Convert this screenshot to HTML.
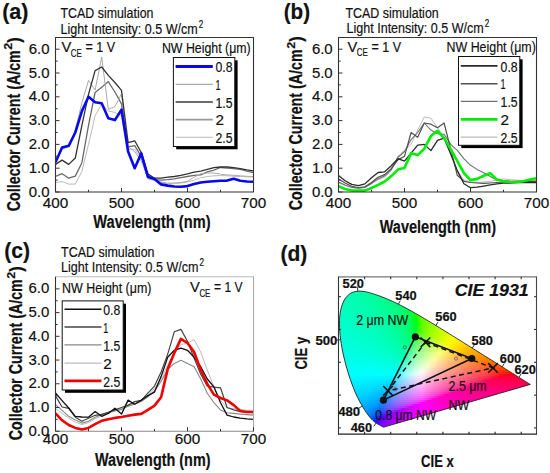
<!DOCTYPE html>
<html><head><meta charset="utf-8"><style>
html,body{margin:0;padding:0;background:#fff;width:550px;height:473px;overflow:hidden}
svg{display:block;font-family:"Liberation Sans",sans-serif}
text{stroke:#111;stroke-width:0.2px}
</style></head><body>
<svg width="550" height="473" viewBox="0 0 550 473" fill="#111">
<rect width="550" height="473" fill="#fff"/>
<clipPath id="clipa"><rect x="55.5" y="37.5" width="198.0" height="154.5"/></clipPath>
<g clip-path="url(#clipa)" fill="none" stroke-linejoin="round">
<polyline points="55.5,182.7 62.1,181.5 68.7,184.1 75.3,184.1 81.9,171.3 88.5,144.4 95.1,115.8 101.7,103.9 108.3,111.1 114.9,112.3 121.5,115.8 128.1,149.2 134.7,149.2 141.3,158.7 147.9,178.9 154.5,180.6 161.1,182.5 167.7,183.7 174.3,183.7 180.9,183.0 187.5,182.0 194.1,180.1 200.7,177.7 207.3,176.5 213.9,175.8 220.5,175.6 227.1,175.8 233.7,176.3 240.3,176.5 246.9,176.8 253.5,177.0" stroke="#bbbbbb" stroke-width="1"/>
<polyline points="55.5,176.3 62.1,173.7 68.7,178.2 75.3,176.1 81.9,162.7 88.5,125.4 95.1,92.5 101.7,87.3 108.3,81.6 114.9,92.0 121.5,103.9 128.1,146.8 134.7,145.6 141.3,156.3 147.9,177.7 154.5,179.6 161.1,180.1 167.7,179.6 174.3,178.9 180.9,177.7 187.5,176.5 194.1,175.3 200.7,174.9 207.3,171.8 213.9,170.1 220.5,167.5 227.1,168.2 233.7,168.7 240.3,169.4 246.9,171.1 253.5,172.7" stroke="#6a6a6a" stroke-width="1.3"/>
<polyline points="55.5,161.1 62.1,149.2 68.7,146.8 75.3,130.1 81.9,102.8 88.5,80.4 95.1,90.1 101.7,57.1 108.3,109.4 114.9,106.6 121.5,93.9 128.1,146.8 134.7,151.5 141.3,161.1 147.9,177.7 154.5,180.1 161.1,182.0 167.7,183.2 174.3,183.0 180.9,182.5 187.5,181.3 194.1,177.2 200.7,173.7 207.3,173.0 213.9,173.0 220.5,174.2 227.1,174.9 233.7,175.3 240.3,175.8 246.9,176.3 253.5,176.5" stroke="#aaaaaa" stroke-width="1"/>
<polyline points="55.5,164.4 62.1,160.1 68.7,164.4 75.3,158.0 81.9,125.4 88.5,94.4 95.1,70.6 101.7,67.0 108.3,75.4 114.9,82.5 121.5,90.4 128.1,142.7 134.7,140.8 141.3,152.5 147.9,173.9 154.5,178.2 161.1,178.2 167.7,177.2 174.3,176.5 180.9,175.3 187.5,173.9 194.1,172.2 200.7,171.1 207.3,169.4 213.9,167.7 220.5,167.0 227.1,167.0 233.7,167.7 240.3,168.7 246.9,169.9 253.5,170.8" stroke="#333333" stroke-width="1.3"/>
<polyline points="55.5,162.2 62.1,147.5 68.7,145.8 75.3,132.5 81.9,111.1 88.5,96.8 95.1,102.3 101.7,103.2 108.3,118.2 114.9,120.1 121.5,109.7 128.1,151.5 134.7,168.2 141.3,153.4 147.9,176.8 154.5,178.9 161.1,184.4 167.7,185.6 174.3,186.5 180.9,186.8 187.5,186.1 194.1,184.1 200.7,182.5 207.3,181.8 213.9,181.3 220.5,180.8 227.1,180.6 233.7,178.7 240.3,180.8 246.9,181.5 253.5,181.8" stroke="#0808ee" stroke-width="2.6"/>
</g>
<line x1="55.00" y1="37.50" x2="254.00" y2="37.50" stroke="#333" stroke-width="1.1" />
<line x1="253.50" y1="37.50" x2="253.50" y2="192.00" stroke="#333" stroke-width="1.1" />
<line x1="55.00" y1="192.00" x2="254.00" y2="192.00" stroke="#333" stroke-width="1.1" />
<line x1="55.50" y1="37.50" x2="55.50" y2="192.00" stroke="#333" stroke-width="1.1" />
<line x1="55.50" y1="192.00" x2="59.50" y2="192.00" stroke="#333" stroke-width="1" />
<line x1="55.50" y1="180.10" x2="57.70" y2="180.10" stroke="#333" stroke-width="1" />
<line x1="55.50" y1="168.20" x2="59.50" y2="168.20" stroke="#333" stroke-width="1" />
<line x1="55.50" y1="156.30" x2="57.70" y2="156.30" stroke="#333" stroke-width="1" />
<line x1="55.50" y1="144.40" x2="59.50" y2="144.40" stroke="#333" stroke-width="1" />
<line x1="55.50" y1="132.50" x2="57.70" y2="132.50" stroke="#333" stroke-width="1" />
<line x1="55.50" y1="120.60" x2="59.50" y2="120.60" stroke="#333" stroke-width="1" />
<line x1="55.50" y1="108.70" x2="57.70" y2="108.70" stroke="#333" stroke-width="1" />
<line x1="55.50" y1="96.80" x2="59.50" y2="96.80" stroke="#333" stroke-width="1" />
<line x1="55.50" y1="84.90" x2="57.70" y2="84.90" stroke="#333" stroke-width="1" />
<line x1="55.50" y1="73.00" x2="59.50" y2="73.00" stroke="#333" stroke-width="1" />
<line x1="55.50" y1="61.10" x2="57.70" y2="61.10" stroke="#333" stroke-width="1" />
<line x1="55.50" y1="49.20" x2="59.50" y2="49.20" stroke="#333" stroke-width="1" />
<line x1="55.50" y1="192.00" x2="55.50" y2="188.00" stroke="#333" stroke-width="1" />
<line x1="88.50" y1="192.00" x2="88.50" y2="189.80" stroke="#333" stroke-width="1" />
<line x1="121.50" y1="192.00" x2="121.50" y2="188.00" stroke="#333" stroke-width="1" />
<line x1="154.50" y1="192.00" x2="154.50" y2="189.80" stroke="#333" stroke-width="1" />
<line x1="187.50" y1="192.00" x2="187.50" y2="188.00" stroke="#333" stroke-width="1" />
<line x1="220.50" y1="192.00" x2="220.50" y2="189.80" stroke="#333" stroke-width="1" />
<line x1="253.50" y1="192.00" x2="253.50" y2="188.00" stroke="#333" stroke-width="1" />
<text x="49.50" y="196.60" font-size="15.5" textLength="20.8" lengthAdjust="spacingAndGlyphs" text-anchor="end">0.0</text>
<text x="49.50" y="172.80" font-size="15.5" textLength="20.8" lengthAdjust="spacingAndGlyphs" text-anchor="end">1.0</text>
<text x="49.50" y="149.00" font-size="15.5" textLength="20.8" lengthAdjust="spacingAndGlyphs" text-anchor="end">2.0</text>
<text x="49.50" y="125.20" font-size="15.5" textLength="20.8" lengthAdjust="spacingAndGlyphs" text-anchor="end">3.0</text>
<text x="49.50" y="101.40" font-size="15.5" textLength="20.8" lengthAdjust="spacingAndGlyphs" text-anchor="end">4.0</text>
<text x="49.50" y="77.60" font-size="15.5" textLength="20.8" lengthAdjust="spacingAndGlyphs" text-anchor="end">5.0</text>
<text x="49.50" y="53.80" font-size="15.5" textLength="20.8" lengthAdjust="spacingAndGlyphs" text-anchor="end">6.0</text>
<text x="55.50" y="207.70" font-size="15.5" textLength="25.5" lengthAdjust="spacingAndGlyphs" text-anchor="middle">400</text>
<text x="121.50" y="207.70" font-size="15.5" textLength="25.5" lengthAdjust="spacingAndGlyphs" text-anchor="middle">500</text>
<text x="187.50" y="207.70" font-size="15.5" textLength="25.5" lengthAdjust="spacingAndGlyphs" text-anchor="middle">600</text>
<text x="253.50" y="207.70" font-size="15.5" textLength="25.5" lengthAdjust="spacingAndGlyphs" text-anchor="middle">700</text>
<text x="93.30" y="228.20" font-size="17.5" font-weight="bold" textLength="117.2" lengthAdjust="spacingAndGlyphs">Wavelength (nm)</text>
<text transform="translate(19.80,211.20) rotate(-90)" font-size="18.5" font-weight="bold" textLength="161" lengthAdjust="spacingAndGlyphs">Collector Current (A/cm</text>
<text transform="translate(12.30,49.70) rotate(-90)" font-size="11.5" font-weight="bold" textLength="7" lengthAdjust="spacingAndGlyphs">2</text>
<text transform="translate(19.80,42.70) rotate(-90)" font-size="18.5" font-weight="bold" textLength="5.5" lengthAdjust="spacingAndGlyphs">)</text>
<text x="2.20" y="18.90" font-size="22.5" font-weight="bold" textLength="26.3" lengthAdjust="spacingAndGlyphs">(a)</text>
<text x="60.50" y="17.60" font-size="15.3" textLength="93.0" lengthAdjust="spacingAndGlyphs">TCAD simulation</text>
<text x="60.50" y="33.60" font-size="15.5" textLength="137.3" lengthAdjust="spacingAndGlyphs">Light Intensity: 0.5 W/cm</text>
<text x="198.80" y="27.90" font-size="10" textLength="4.5" lengthAdjust="spacingAndGlyphs">2</text>
<text x="61.40" y="52.10" font-size="15" textLength="9.8" lengthAdjust="spacingAndGlyphs">V</text>
<text x="70.70" y="56.80" font-size="10.5" textLength="11" lengthAdjust="spacingAndGlyphs">CE</text>
<text x="85.40" y="52.10" font-size="15" textLength="29.6" lengthAdjust="spacingAndGlyphs">= 1 V</text>
<text x="161.90" y="52.60" font-size="15.3" textLength="88.8" lengthAdjust="spacingAndGlyphs">NW Height (μm)</text>
<rect x="176.20" y="60.30" width="61.40" height="89.00" fill="#000"/>
<rect x="173.4" y="57.5" width="61.40" height="89.00" fill="#fff" stroke="#111" stroke-width="1"/>
<line x1="175.60" y1="66.50" x2="212.80" y2="66.50" stroke="#0808ee" stroke-width="2.8" />
<text x="215.50" y="72.20" font-size="15.3" textLength="17" lengthAdjust="spacingAndGlyphs">0.8</text>
<line x1="175.60" y1="84.30" x2="212.80" y2="84.30" stroke="#aaaaaa" stroke-width="1.3" />
<text x="215.50" y="90.00" font-size="15.3" textLength="5" lengthAdjust="spacingAndGlyphs">1</text>
<line x1="175.60" y1="102.00" x2="212.80" y2="102.00" stroke="#6a6a6a" stroke-width="2.1" />
<text x="215.50" y="107.70" font-size="15.3" textLength="17" lengthAdjust="spacingAndGlyphs">1.5</text>
<line x1="175.60" y1="119.60" x2="212.80" y2="119.60" stroke="#999999" stroke-width="1.8" />
<text x="215.50" y="125.30" font-size="15.3" textLength="8.5" lengthAdjust="spacingAndGlyphs">2</text>
<line x1="175.60" y1="137.30" x2="212.80" y2="137.30" stroke="#bbbbbb" stroke-width="1.1" />
<text x="215.50" y="143.00" font-size="15.3" textLength="17" lengthAdjust="spacingAndGlyphs">2.5</text>
<clipPath id="clipb"><rect x="338.5" y="37.5" width="198.0" height="154.5"/></clipPath>
<g clip-path="url(#clipb)" fill="none" stroke-linejoin="round">
<polyline points="338.5,183.0 345.1,185.3 351.7,187.7 358.3,188.4 364.9,187.7 371.5,183.9 378.1,179.6 384.7,177.2 391.3,170.6 397.9,156.3 404.5,150.3 411.1,144.4 417.7,130.1 424.3,117.0 430.9,118.2 437.5,127.7 444.1,137.3 450.7,153.9 457.3,170.6 463.9,180.1 470.5,182.0 477.1,182.5 483.7,182.0 490.3,181.3 496.9,180.1 503.5,178.9 510.1,179.6 516.7,180.1 523.3,180.6 529.9,180.8 536.5,181.1" stroke="#bbbbbb" stroke-width="1"/>
<polyline points="338.5,182.0 345.1,184.9 351.7,187.2 358.3,188.2 364.9,187.2 371.5,183.4 378.1,178.9 384.7,175.8 391.3,169.4 397.9,157.5 404.5,151.5 411.1,139.6 417.7,132.5 424.3,123.0 430.9,130.1 437.5,133.7 444.1,134.2 450.7,144.4 457.3,150.3 463.9,158.7 470.5,165.3 477.1,169.4 483.7,172.7 490.3,176.5 496.9,180.1 503.5,180.6 510.1,181.1 516.7,181.3 523.3,181.3 529.9,181.3 536.5,181.3" stroke="#707070" stroke-width="1.1"/>
<polyline points="338.5,179.1 345.1,183.0 351.7,186.3 358.3,187.5 364.9,186.8 371.5,182.5 378.1,177.2 384.7,174.6 391.3,168.7 397.9,159.9 404.5,156.3 411.1,132.5 417.7,137.3 424.3,123.0 430.9,124.2 437.5,127.7 444.1,123.0 450.7,149.2 457.3,175.3 463.9,181.3 470.5,182.5 477.1,183.0 483.7,183.4 490.3,183.0 496.9,182.5 503.5,182.0 510.1,181.5 516.7,181.3 523.3,181.3 529.9,181.3 536.5,181.3" stroke="#505050" stroke-width="1.2"/>
<polyline points="338.5,175.6 345.1,180.8 351.7,184.4 358.3,185.6 364.9,183.9 371.5,177.7 378.1,172.5 384.7,171.8 391.3,165.8 397.9,158.7 404.5,161.1 411.1,153.2 417.7,145.1 424.3,144.4 430.9,150.6 437.5,140.4 444.1,138.2 450.7,153.9 457.3,170.6 463.9,183.7 470.5,187.7 477.1,187.2 483.7,186.1 490.3,184.9 496.9,183.9 503.5,183.2 510.1,183.0 516.7,182.7 523.3,182.5 529.9,182.5 536.5,182.5" stroke="#2a2a2a" stroke-width="1.3"/>
<polyline points="338.5,186.1 345.1,189.1 351.7,190.6 358.3,190.6 364.9,190.6 371.5,188.0 378.1,184.9 384.7,181.5 391.3,176.1 397.9,169.6 404.5,168.0 411.1,153.2 417.7,155.1 424.3,148.7 430.9,136.1 437.5,130.8 444.1,138.2 450.7,149.2 457.3,161.1 463.9,173.0 470.5,180.1 477.1,178.9 483.7,175.8 490.3,173.2 496.9,179.6 503.5,181.3 510.1,182.0 516.7,182.2 523.3,181.3 529.9,179.6 536.5,178.2" stroke="#00ee00" stroke-width="2.6"/>
</g>
<line x1="338.00" y1="37.50" x2="537.00" y2="37.50" stroke="#333" stroke-width="1.1" />
<line x1="536.50" y1="37.50" x2="536.50" y2="192.00" stroke="#333" stroke-width="1.1" />
<line x1="338.00" y1="192.00" x2="537.00" y2="192.00" stroke="#333" stroke-width="1.1" />
<line x1="338.50" y1="37.50" x2="338.50" y2="192.00" stroke="#333" stroke-width="1.1" />
<line x1="338.50" y1="192.00" x2="342.50" y2="192.00" stroke="#333" stroke-width="1" />
<line x1="338.50" y1="180.10" x2="340.70" y2="180.10" stroke="#333" stroke-width="1" />
<line x1="338.50" y1="168.20" x2="342.50" y2="168.20" stroke="#333" stroke-width="1" />
<line x1="338.50" y1="156.30" x2="340.70" y2="156.30" stroke="#333" stroke-width="1" />
<line x1="338.50" y1="144.40" x2="342.50" y2="144.40" stroke="#333" stroke-width="1" />
<line x1="338.50" y1="132.50" x2="340.70" y2="132.50" stroke="#333" stroke-width="1" />
<line x1="338.50" y1="120.60" x2="342.50" y2="120.60" stroke="#333" stroke-width="1" />
<line x1="338.50" y1="108.70" x2="340.70" y2="108.70" stroke="#333" stroke-width="1" />
<line x1="338.50" y1="96.80" x2="342.50" y2="96.80" stroke="#333" stroke-width="1" />
<line x1="338.50" y1="84.90" x2="340.70" y2="84.90" stroke="#333" stroke-width="1" />
<line x1="338.50" y1="73.00" x2="342.50" y2="73.00" stroke="#333" stroke-width="1" />
<line x1="338.50" y1="61.10" x2="340.70" y2="61.10" stroke="#333" stroke-width="1" />
<line x1="338.50" y1="49.20" x2="342.50" y2="49.20" stroke="#333" stroke-width="1" />
<line x1="338.50" y1="192.00" x2="338.50" y2="188.00" stroke="#333" stroke-width="1" />
<line x1="371.50" y1="192.00" x2="371.50" y2="189.80" stroke="#333" stroke-width="1" />
<line x1="404.50" y1="192.00" x2="404.50" y2="188.00" stroke="#333" stroke-width="1" />
<line x1="437.50" y1="192.00" x2="437.50" y2="189.80" stroke="#333" stroke-width="1" />
<line x1="470.50" y1="192.00" x2="470.50" y2="188.00" stroke="#333" stroke-width="1" />
<line x1="503.50" y1="192.00" x2="503.50" y2="189.80" stroke="#333" stroke-width="1" />
<line x1="536.50" y1="192.00" x2="536.50" y2="188.00" stroke="#333" stroke-width="1" />
<text x="332.70" y="196.60" font-size="15.5" textLength="20.8" lengthAdjust="spacingAndGlyphs" text-anchor="end">0.0</text>
<text x="332.70" y="172.80" font-size="15.5" textLength="20.8" lengthAdjust="spacingAndGlyphs" text-anchor="end">1.0</text>
<text x="332.70" y="149.00" font-size="15.5" textLength="20.8" lengthAdjust="spacingAndGlyphs" text-anchor="end">2.0</text>
<text x="332.70" y="125.20" font-size="15.5" textLength="20.8" lengthAdjust="spacingAndGlyphs" text-anchor="end">3.0</text>
<text x="332.70" y="101.40" font-size="15.5" textLength="20.8" lengthAdjust="spacingAndGlyphs" text-anchor="end">4.0</text>
<text x="332.70" y="77.60" font-size="15.5" textLength="20.8" lengthAdjust="spacingAndGlyphs" text-anchor="end">5.0</text>
<text x="332.70" y="53.80" font-size="15.5" textLength="20.8" lengthAdjust="spacingAndGlyphs" text-anchor="end">6.0</text>
<text x="338.50" y="208.20" font-size="15.5" textLength="25.5" lengthAdjust="spacingAndGlyphs" text-anchor="middle">400</text>
<text x="404.50" y="208.20" font-size="15.5" textLength="25.5" lengthAdjust="spacingAndGlyphs" text-anchor="middle">500</text>
<text x="470.50" y="208.20" font-size="15.5" textLength="25.5" lengthAdjust="spacingAndGlyphs" text-anchor="middle">600</text>
<text x="536.50" y="208.20" font-size="15.5" textLength="25.5" lengthAdjust="spacingAndGlyphs" text-anchor="middle">700</text>
<text x="379.70" y="233.00" font-size="17.5" font-weight="bold" textLength="116.3" lengthAdjust="spacingAndGlyphs">Wavelength (nm)</text>
<text transform="translate(302.20,210.30) rotate(-90)" font-size="18.5" font-weight="bold" textLength="161" lengthAdjust="spacingAndGlyphs">Collector Current (A/cm</text>
<text transform="translate(294.70,48.80) rotate(-90)" font-size="11.5" font-weight="bold" textLength="7" lengthAdjust="spacingAndGlyphs">2</text>
<text transform="translate(302.20,41.80) rotate(-90)" font-size="18.5" font-weight="bold" textLength="5.5" lengthAdjust="spacingAndGlyphs">)</text>
<text x="283.70" y="19.00" font-size="22.5" font-weight="bold" textLength="26.4" lengthAdjust="spacingAndGlyphs">(b)</text>
<text x="345.50" y="18.30" font-size="15.3" textLength="93.2" lengthAdjust="spacingAndGlyphs">TCAD simulation</text>
<text x="346.50" y="32.80" font-size="15.5" textLength="137.3" lengthAdjust="spacingAndGlyphs">Light Intensity: 0.5 W/cm</text>
<text x="484.80" y="27.10" font-size="10" textLength="4.5" lengthAdjust="spacingAndGlyphs">2</text>
<text x="347.50" y="51.70" font-size="15" textLength="9.8" lengthAdjust="spacingAndGlyphs">V</text>
<text x="356.80" y="56.40" font-size="10.5" textLength="11" lengthAdjust="spacingAndGlyphs">CE</text>
<text x="371.50" y="51.70" font-size="15" textLength="29.5" lengthAdjust="spacingAndGlyphs">= 1 V</text>
<text x="446.50" y="52.00" font-size="15.3" textLength="89.3" lengthAdjust="spacingAndGlyphs">NW Height (μm)</text>
<rect x="461.30" y="59.30" width="61.30" height="88.80" fill="#000"/>
<rect x="458.5" y="56.5" width="61.30" height="88.80" fill="#fff" stroke="#111" stroke-width="1"/>
<line x1="460.80" y1="65.90" x2="497.50" y2="65.90" stroke="#2a2a2a" stroke-width="1.6" />
<text x="500.60" y="71.60" font-size="15.3" textLength="17" lengthAdjust="spacingAndGlyphs">0.8</text>
<line x1="460.80" y1="83.70" x2="497.50" y2="83.70" stroke="#505050" stroke-width="1.5" />
<text x="500.60" y="89.40" font-size="15.3" textLength="5" lengthAdjust="spacingAndGlyphs">1</text>
<line x1="460.80" y1="101.30" x2="497.50" y2="101.30" stroke="#707070" stroke-width="1.3" />
<text x="500.60" y="107.00" font-size="15.3" textLength="17" lengthAdjust="spacingAndGlyphs">1.5</text>
<line x1="460.80" y1="119.40" x2="497.50" y2="119.40" stroke="#00ee00" stroke-width="2.8" />
<text x="500.60" y="125.10" font-size="15.3" textLength="8.5" lengthAdjust="spacingAndGlyphs">2</text>
<line x1="460.80" y1="137.10" x2="497.50" y2="137.10" stroke="#bbbbbb" stroke-width="1.2" />
<text x="500.60" y="142.80" font-size="15.3" textLength="17" lengthAdjust="spacingAndGlyphs">2.5</text>
<clipPath id="clipc"><rect x="55.5" y="276.8" width="198.0" height="154.39999999999998"/></clipPath>
<g clip-path="url(#clipc)" fill="none" stroke-linejoin="round">
<polyline points="55.5,408.4 62.1,413.4 68.7,418.2 75.3,422.2 81.9,424.6 88.5,422.7 95.1,418.6 101.7,415.8 108.3,412.2 114.9,410.3 121.5,408.7 128.1,406.3 134.7,403.9 141.3,400.4 147.9,395.6 154.5,388.5 161.1,379.0 167.7,364.8 174.3,352.9 180.9,344.4 187.5,343.4 194.1,339.6 200.7,352.0 207.3,370.0 213.9,386.8 220.5,400.4 227.1,408.0 233.7,408.7 240.3,409.4 246.9,410.3 253.5,411.0" stroke="#bbbbbb" stroke-width="1"/>
<polyline points="55.5,404.6 62.1,410.3 68.7,416.3 75.3,420.1 81.9,423.1 88.5,421.2 95.1,417.2 101.7,414.4 108.3,412.7 114.9,411.0 121.5,409.4 128.1,406.3 134.7,403.9 141.3,401.6 147.9,396.8 154.5,390.9 161.1,381.4 167.7,369.5 174.3,363.4 180.9,360.3 187.5,363.4 194.1,366.7 200.7,379.0 207.3,393.2 213.9,402.7 220.5,409.9 227.1,412.7 233.7,413.4 240.3,414.1 246.9,414.6 253.5,415.1" stroke="#888888" stroke-width="1.1"/>
<polyline points="55.5,395.9 62.1,407.0 68.7,408.4 75.3,417.2 81.9,421.2 88.5,418.2 95.1,415.3 101.7,414.4 108.3,412.2 114.9,409.9 121.5,407.5 128.1,405.1 134.7,401.6 141.3,400.4 147.9,393.2 154.5,386.1 161.1,371.9 167.7,354.1 174.3,331.8 180.9,329.4 187.5,341.3 194.1,358.1 200.7,374.3 207.3,386.1 213.9,387.1 220.5,387.8 227.1,407.5 233.7,409.9 240.3,411.7 246.9,412.2 253.5,412.7" stroke="#444444" stroke-width="1.2"/>
<polyline points="55.5,393.0 62.1,400.6 68.7,408.0 75.3,416.3 81.9,417.0 88.5,417.2 95.1,411.5 101.7,416.3 108.3,413.4 114.9,408.2 121.5,414.1 128.1,400.1 134.7,404.2 141.3,400.1 147.9,395.6 154.5,392.1 161.1,376.6 167.7,357.2 174.3,350.3 180.9,348.2 187.5,350.3 194.1,357.2 200.7,366.7 207.3,379.0 213.9,386.8 220.5,402.7 227.1,415.1 233.7,417.0 240.3,418.2 246.9,418.9 253.5,419.3" stroke="#111111" stroke-width="1.3"/>
<polyline points="55.5,413.4 62.1,420.3 68.7,425.0 75.3,427.9 81.9,429.5 88.5,427.9 95.1,424.1 101.7,420.8 108.3,419.3 114.9,417.9 121.5,417.0 128.1,415.8 134.7,414.6 141.3,413.9 147.9,409.9 154.5,405.6 161.1,397.3 167.7,369.1 174.3,352.9 180.9,338.9 187.5,343.0 194.1,352.0 200.7,370.0 207.3,383.8 213.9,394.7 220.5,398.0 227.1,400.4 233.7,405.1 240.3,411.0 246.9,412.0 253.5,412.0" stroke="#f00000" stroke-width="2.6"/>
</g>
<line x1="55.00" y1="276.80" x2="254.00" y2="276.80" stroke="#bbbbbb" stroke-width="1.1" />
<line x1="253.50" y1="276.80" x2="253.50" y2="431.20" stroke="#aaaaaa" stroke-width="1.1" />
<line x1="55.00" y1="431.20" x2="254.00" y2="431.20" stroke="#888888" stroke-width="1.1" />
<line x1="55.50" y1="276.80" x2="55.50" y2="431.20" stroke="#333333" stroke-width="1.1" />
<line x1="55.50" y1="431.20" x2="59.50" y2="431.20" stroke="#333" stroke-width="1" />
<line x1="55.50" y1="419.34" x2="57.70" y2="419.34" stroke="#333" stroke-width="1" />
<line x1="55.50" y1="407.48" x2="59.50" y2="407.48" stroke="#333" stroke-width="1" />
<line x1="55.50" y1="395.62" x2="57.70" y2="395.62" stroke="#333" stroke-width="1" />
<line x1="55.50" y1="383.76" x2="59.50" y2="383.76" stroke="#333" stroke-width="1" />
<line x1="55.50" y1="371.90" x2="57.70" y2="371.90" stroke="#333" stroke-width="1" />
<line x1="55.50" y1="360.04" x2="59.50" y2="360.04" stroke="#333" stroke-width="1" />
<line x1="55.50" y1="348.18" x2="57.70" y2="348.18" stroke="#333" stroke-width="1" />
<line x1="55.50" y1="336.32" x2="59.50" y2="336.32" stroke="#333" stroke-width="1" />
<line x1="55.50" y1="324.46" x2="57.70" y2="324.46" stroke="#333" stroke-width="1" />
<line x1="55.50" y1="312.60" x2="59.50" y2="312.60" stroke="#333" stroke-width="1" />
<line x1="55.50" y1="300.74" x2="57.70" y2="300.74" stroke="#333" stroke-width="1" />
<line x1="55.50" y1="288.88" x2="59.50" y2="288.88" stroke="#333" stroke-width="1" />
<line x1="55.50" y1="431.20" x2="55.50" y2="427.20" stroke="#333" stroke-width="1" />
<line x1="88.50" y1="431.20" x2="88.50" y2="429.00" stroke="#333" stroke-width="1" />
<line x1="121.50" y1="431.20" x2="121.50" y2="427.20" stroke="#333" stroke-width="1" />
<line x1="154.50" y1="431.20" x2="154.50" y2="429.00" stroke="#333" stroke-width="1" />
<line x1="187.50" y1="431.20" x2="187.50" y2="427.20" stroke="#333" stroke-width="1" />
<line x1="220.50" y1="431.20" x2="220.50" y2="429.00" stroke="#333" stroke-width="1" />
<line x1="253.50" y1="431.20" x2="253.50" y2="427.20" stroke="#333" stroke-width="1" />
<text x="49.30" y="435.80" font-size="15.5" textLength="20.8" lengthAdjust="spacingAndGlyphs" text-anchor="end">0.0</text>
<text x="49.30" y="412.08" font-size="15.5" textLength="20.8" lengthAdjust="spacingAndGlyphs" text-anchor="end">1.0</text>
<text x="49.30" y="388.36" font-size="15.5" textLength="20.8" lengthAdjust="spacingAndGlyphs" text-anchor="end">2.0</text>
<text x="49.30" y="364.64" font-size="15.5" textLength="20.8" lengthAdjust="spacingAndGlyphs" text-anchor="end">3.0</text>
<text x="49.30" y="340.92" font-size="15.5" textLength="20.8" lengthAdjust="spacingAndGlyphs" text-anchor="end">4.0</text>
<text x="49.30" y="317.20" font-size="15.5" textLength="20.8" lengthAdjust="spacingAndGlyphs" text-anchor="end">5.0</text>
<text x="49.30" y="293.48" font-size="15.5" textLength="20.8" lengthAdjust="spacingAndGlyphs" text-anchor="end">6.0</text>
<text x="55.50" y="443.70" font-size="15.5" textLength="25.5" lengthAdjust="spacingAndGlyphs" text-anchor="middle">400</text>
<text x="121.50" y="443.70" font-size="15.5" textLength="25.5" lengthAdjust="spacingAndGlyphs" text-anchor="middle">500</text>
<text x="187.50" y="443.70" font-size="15.5" textLength="25.5" lengthAdjust="spacingAndGlyphs" text-anchor="middle">600</text>
<text x="253.50" y="443.70" font-size="15.5" textLength="25.5" lengthAdjust="spacingAndGlyphs" text-anchor="middle">700</text>
<text x="95.00" y="466.00" font-size="17.5" font-weight="bold" textLength="115.5" lengthAdjust="spacingAndGlyphs">Wavelength (nm)</text>
<text transform="translate(22.00,440.20) rotate(-90)" font-size="18.5" font-weight="bold" textLength="161" lengthAdjust="spacingAndGlyphs">Collector Current (A/cm</text>
<text transform="translate(14.50,278.70) rotate(-90)" font-size="11.5" font-weight="bold" textLength="7" lengthAdjust="spacingAndGlyphs">2</text>
<text transform="translate(22.00,271.70) rotate(-90)" font-size="18.5" font-weight="bold" textLength="5.5" lengthAdjust="spacingAndGlyphs">)</text>
<text x="4.20" y="257.90" font-size="22.5" font-weight="bold" textLength="25.8" lengthAdjust="spacingAndGlyphs">(c)</text>
<text x="61.10" y="257.00" font-size="15.3" textLength="93.4" lengthAdjust="spacingAndGlyphs">TCAD simulation</text>
<text x="61.10" y="271.80" font-size="15.5" textLength="137.4" lengthAdjust="spacingAndGlyphs">Light Intensity: 0.5 W/cm</text>
<text x="199.50" y="266.10" font-size="10" textLength="4.5" lengthAdjust="spacingAndGlyphs">2</text>
<text x="190.10" y="292.40" font-size="15" textLength="9.8" lengthAdjust="spacingAndGlyphs">V</text>
<text x="199.40" y="297.10" font-size="10.5" textLength="11" lengthAdjust="spacingAndGlyphs">CE</text>
<text x="214.10" y="292.40" font-size="15" textLength="28.5" lengthAdjust="spacingAndGlyphs">= 1 V</text>
<text x="62.10" y="292.80" font-size="15.3" textLength="89.3" lengthAdjust="spacingAndGlyphs">NW Height (μm)</text>
<rect x="65.00" y="303.70" width="61.00" height="89.10" fill="#000"/>
<rect x="62.2" y="300.9" width="61.00" height="89.10" fill="#fff" stroke="#111" stroke-width="1"/>
<line x1="64.50" y1="309.30" x2="101.50" y2="309.30" stroke="#111111" stroke-width="1.6" />
<text x="103.20" y="315.00" font-size="15.3" textLength="17" lengthAdjust="spacingAndGlyphs">0.8</text>
<line x1="64.50" y1="327.00" x2="101.50" y2="327.00" stroke="#444444" stroke-width="1.5" />
<text x="103.20" y="332.70" font-size="15.3" textLength="5" lengthAdjust="spacingAndGlyphs">1</text>
<line x1="64.50" y1="344.90" x2="101.50" y2="344.90" stroke="#888888" stroke-width="1.3" />
<text x="103.20" y="350.60" font-size="15.3" textLength="17" lengthAdjust="spacingAndGlyphs">1.5</text>
<line x1="64.50" y1="363.10" x2="101.50" y2="363.10" stroke="#bbbbbb" stroke-width="1.2" />
<text x="103.20" y="368.80" font-size="15.3" textLength="8.5" lengthAdjust="spacingAndGlyphs">2</text>
<line x1="64.50" y1="380.80" x2="101.50" y2="380.80" stroke="#f00000" stroke-width="2.8" />
<text x="103.20" y="386.50" font-size="15.3" textLength="17" lengthAdjust="spacingAndGlyphs">2.5</text>
<clipPath id="horse"><path d="M383.24,427.06 L383.19,427.05 L383.13,427.03 L383.07,427.00 L383.01,426.98 L382.95,426.95 L382.88,426.92 L382.82,426.89 L382.74,426.85 L382.67,426.81 L382.58,426.77 L382.49,426.72 L382.39,426.67 L382.29,426.61 L382.18,426.55 L382.06,426.49 L381.94,426.42 L381.82,426.35 L381.69,426.27 L381.55,426.19 L381.41,426.11 L381.26,426.03 L381.10,425.94 L380.93,425.84 L380.74,425.74 L380.55,425.64 L380.34,425.52 L380.11,425.40 L379.88,425.27 L379.63,425.14 L379.37,425.00 L379.11,424.85 L378.83,424.70 L378.54,424.54 L378.23,424.36 L377.91,424.18 L377.57,423.98 L377.22,423.76 L376.86,423.53 L376.48,423.29 L376.08,423.03 L375.68,422.76 L375.26,422.46 L374.82,422.13 L374.36,421.77 L373.87,421.36 L373.34,420.89 L372.77,420.36 L372.18,419.78 L371.55,419.13 L370.89,418.42 L370.20,417.64 L369.48,416.78 L368.72,415.84 L367.93,414.81 L367.11,413.66 L366.24,412.41 L365.34,411.04 L364.39,409.54 L363.38,407.91 L362.33,406.14 L361.22,404.22 L360.06,402.16 L358.87,399.94 L357.65,397.55 L356.43,394.99 L355.21,392.25 L353.99,389.33 L352.77,386.23 L351.56,382.96 L350.35,379.52 L349.14,375.91 L347.96,372.15 L346.80,368.26 L345.69,364.28 L344.63,360.22 L343.65,356.10 L342.76,351.96 L341.95,347.81 L341.24,343.68 L340.64,339.60 L340.15,335.59 L339.79,331.67 L339.56,327.84 L339.47,324.11 L339.52,320.51 L339.72,317.04 L340.08,313.73 L340.60,310.58 L341.28,307.62 L342.13,304.87 L343.14,302.34 L344.31,300.05 L345.63,298.01 L347.08,296.23 L348.65,294.73 L350.34,293.51 L352.11,292.56 L353.98,291.87 L355.91,291.40 L357.89,291.16 L359.92,291.11 L361.98,291.24 L364.07,291.51 L366.18,291.91 L368.31,292.40 L370.44,292.97 L372.57,293.60 L374.69,294.28 L376.80,294.99 L378.88,295.73 L380.92,296.49 L382.94,297.27 L384.93,298.07 L386.90,298.88 L388.85,299.72 L390.78,300.57 L392.71,301.45 L394.62,302.35 L396.52,303.26 L398.43,304.19 L400.32,305.15 L402.22,306.12 L404.11,307.10 L405.99,308.10 L407.87,309.11 L409.75,310.14 L411.62,311.18 L413.49,312.23 L415.35,313.29 L417.22,314.36 L419.08,315.44 L420.94,316.53 L422.81,317.63 L424.67,318.73 L426.54,319.84 L428.40,320.96 L430.27,322.08 L432.14,323.21 L434.01,324.34 L435.88,325.48 L437.74,326.62 L439.60,327.77 L441.46,328.91 L443.32,330.06 L445.17,331.21 L447.03,332.35 L448.88,333.50 L450.73,334.64 L452.57,335.79 L454.41,336.93 L456.24,338.07 L458.06,339.20 L459.87,340.34 L461.67,341.46 L463.47,342.59 L465.25,343.70 L467.02,344.81 L468.78,345.92 L470.53,347.01 L472.26,348.10 L473.98,349.18 L475.69,350.24 L477.37,351.30 L479.04,352.35 L480.69,353.38 L482.32,354.40 L483.93,355.40 L485.52,356.39 L487.09,357.37 L488.63,358.33 L490.14,359.28 L491.62,360.21 L493.07,361.12 L494.48,362.01 L495.86,362.87 L497.19,363.71 L498.48,364.52 L499.73,365.30 L500.95,366.06 L502.15,366.81 L503.32,367.54 L504.46,368.26 L505.57,368.95 L506.64,369.62 L507.68,370.27 L508.68,370.89 L509.63,371.48 L510.55,372.05 L511.43,372.60 L512.27,373.12 L513.09,373.63 L513.86,374.12 L514.61,374.59 L515.32,375.04 L516.01,375.47 L516.66,375.88 L517.28,376.27 L517.87,376.64 L518.44,377.00 L518.98,377.34 L519.50,377.66 L520.00,377.97 L520.47,378.26 L520.92,378.55 L521.36,378.81 L521.77,379.07 L522.17,379.32 L522.54,379.56 L522.91,379.79 L523.26,380.01 L523.60,380.23 L523.93,380.43 L524.25,380.63 L524.56,380.83 L524.85,381.01 L525.14,381.19 L525.41,381.36 L525.67,381.53 L525.92,381.68 L526.16,381.83 L526.39,381.97 L526.61,382.11 L526.82,382.24 L527.02,382.36 L527.20,382.47 L527.38,382.58 L527.54,382.68 L527.70,382.78 L527.85,382.88 L527.99,382.96 L528.12,383.05 L528.24,383.13 L528.36,383.20 L528.48,383.27 L528.59,383.34 L528.69,383.41 L528.78,383.47 L528.87,383.52 L528.96,383.57 L529.03,383.62 L529.10,383.66 L529.16,383.70 L529.21,383.74 L529.27,383.77 L529.32,383.80 L529.37,383.83 L529.42,383.86 L529.46,383.89 L529.51,383.92 L529.55,383.95 L529.59,383.97 L529.63,384.00 L529.66,384.02 L529.70,384.04 L529.73,384.06 L529.77,384.09 L529.81,384.11 L529.84,384.13 L529.88,384.16 L529.92,384.18 L529.95,384.20 L529.99,384.22 L530.02,384.24 L530.05,384.26 L530.07,384.28 L530.10,384.29 L530.12,384.31 L530.14,384.32 L530.16,384.33 L530.18,384.34 L530.19,384.35 L530.20,384.36 L530.21,384.36 L530.22,384.37 L530.23,384.37 L530.24,384.38 L530.24,384.38 L530.25,384.38 L530.25,384.39 L530.26,384.39 L383.94,427.08 Z"/></clipPath>
<defs><linearGradient id="g0" gradientUnits="userSpaceOnUse" x1="338" y1="0" x2="532" y2="0"><stop offset="0.000" stop-color="#00ffb5"/><stop offset="0.031" stop-color="#00ffb1"/><stop offset="0.062" stop-color="#00ffad"/><stop offset="0.093" stop-color="#00ffa9"/><stop offset="0.124" stop-color="#00ffa4"/><stop offset="0.155" stop-color="#00ff9e"/><stop offset="0.186" stop-color="#00ff97"/><stop offset="0.216" stop-color="#00ff8f"/><stop offset="0.247" stop-color="#00ff86"/><stop offset="0.278" stop-color="#00ff7b"/><stop offset="0.309" stop-color="#00ff6d"/><stop offset="0.340" stop-color="#00ff59"/><stop offset="0.371" stop-color="#00ff39"/><stop offset="0.402" stop-color="#2cff00"/><stop offset="0.433" stop-color="#56ff00"/><stop offset="0.464" stop-color="#70ff00"/><stop offset="0.495" stop-color="#84ff00"/><stop offset="0.526" stop-color="#94ff00"/><stop offset="0.557" stop-color="#a3ff00"/><stop offset="0.588" stop-color="#b0ff00"/><stop offset="0.619" stop-color="#bcff00"/><stop offset="0.649" stop-color="#c7ff00"/><stop offset="0.680" stop-color="#d1ff00"/><stop offset="0.711" stop-color="#dbff00"/><stop offset="0.742" stop-color="#e4ff00"/><stop offset="0.773" stop-color="#ecff00"/><stop offset="0.804" stop-color="#f5ff00"/><stop offset="0.835" stop-color="#fdff00"/><stop offset="0.866" stop-color="#fffa00"/><stop offset="0.897" stop-color="#fff300"/><stop offset="0.928" stop-color="#ffed00"/><stop offset="0.959" stop-color="#ffe700"/><stop offset="0.990" stop-color="#ffe200"/><stop offset="1.000" stop-color="#ffdd00"/></linearGradient><linearGradient id="g1" gradientUnits="userSpaceOnUse" x1="338" y1="0" x2="532" y2="0"><stop offset="0.000" stop-color="#00ffb6"/><stop offset="0.031" stop-color="#00ffb2"/><stop offset="0.062" stop-color="#00ffae"/><stop offset="0.093" stop-color="#00ffaa"/><stop offset="0.124" stop-color="#00ffa5"/><stop offset="0.155" stop-color="#00ff9f"/><stop offset="0.186" stop-color="#00ff99"/><stop offset="0.216" stop-color="#00ff91"/><stop offset="0.247" stop-color="#00ff88"/><stop offset="0.278" stop-color="#00ff7c"/><stop offset="0.309" stop-color="#00ff6e"/><stop offset="0.340" stop-color="#00ff5a"/><stop offset="0.371" stop-color="#00ff3b"/><stop offset="0.402" stop-color="#2bff00"/><stop offset="0.433" stop-color="#56ff00"/><stop offset="0.464" stop-color="#70ff00"/><stop offset="0.495" stop-color="#85ff00"/><stop offset="0.526" stop-color="#95ff00"/><stop offset="0.557" stop-color="#a4ff00"/><stop offset="0.588" stop-color="#b1ff00"/><stop offset="0.619" stop-color="#bdff00"/><stop offset="0.649" stop-color="#c9ff00"/><stop offset="0.680" stop-color="#d3ff00"/><stop offset="0.711" stop-color="#ddff00"/><stop offset="0.742" stop-color="#e6ff00"/><stop offset="0.773" stop-color="#efff00"/><stop offset="0.804" stop-color="#f7ff00"/><stop offset="0.835" stop-color="#ffff00"/><stop offset="0.866" stop-color="#fff700"/><stop offset="0.897" stop-color="#fff100"/><stop offset="0.928" stop-color="#ffea00"/><stop offset="0.959" stop-color="#ffe500"/><stop offset="0.990" stop-color="#ffdf00"/><stop offset="1.000" stop-color="#ffda00"/></linearGradient><linearGradient id="g2" gradientUnits="userSpaceOnUse" x1="338" y1="0" x2="532" y2="0"><stop offset="0.000" stop-color="#00ffb7"/><stop offset="0.031" stop-color="#00ffb4"/><stop offset="0.062" stop-color="#00ffb0"/><stop offset="0.093" stop-color="#00ffab"/><stop offset="0.124" stop-color="#00ffa6"/><stop offset="0.155" stop-color="#00ffa0"/><stop offset="0.186" stop-color="#00ff9a"/><stop offset="0.216" stop-color="#00ff92"/><stop offset="0.247" stop-color="#00ff89"/><stop offset="0.278" stop-color="#00ff7e"/><stop offset="0.309" stop-color="#00ff6f"/><stop offset="0.340" stop-color="#00ff5c"/><stop offset="0.371" stop-color="#00ff3d"/><stop offset="0.402" stop-color="#2aff00"/><stop offset="0.433" stop-color="#57ff00"/><stop offset="0.464" stop-color="#71ff00"/><stop offset="0.495" stop-color="#86ff00"/><stop offset="0.526" stop-color="#97ff00"/><stop offset="0.557" stop-color="#a6ff00"/><stop offset="0.588" stop-color="#b3ff00"/><stop offset="0.619" stop-color="#bfff00"/><stop offset="0.649" stop-color="#cbff00"/><stop offset="0.680" stop-color="#d5ff00"/><stop offset="0.711" stop-color="#dfff00"/><stop offset="0.742" stop-color="#e8ff00"/><stop offset="0.773" stop-color="#f1ff00"/><stop offset="0.804" stop-color="#faff00"/><stop offset="0.835" stop-color="#fffc00"/><stop offset="0.866" stop-color="#fff500"/><stop offset="0.897" stop-color="#ffee00"/><stop offset="0.928" stop-color="#ffe800"/><stop offset="0.959" stop-color="#ffe200"/><stop offset="0.990" stop-color="#ffdd00"/><stop offset="1.000" stop-color="#ffd800"/></linearGradient><linearGradient id="g3" gradientUnits="userSpaceOnUse" x1="338" y1="0" x2="532" y2="0"><stop offset="0.000" stop-color="#00ffb8"/><stop offset="0.031" stop-color="#00ffb5"/><stop offset="0.062" stop-color="#00ffb1"/><stop offset="0.093" stop-color="#00ffac"/><stop offset="0.124" stop-color="#00ffa7"/><stop offset="0.155" stop-color="#00ffa2"/><stop offset="0.186" stop-color="#00ff9b"/><stop offset="0.216" stop-color="#00ff94"/><stop offset="0.247" stop-color="#00ff8a"/><stop offset="0.278" stop-color="#00ff7f"/><stop offset="0.309" stop-color="#00ff71"/><stop offset="0.340" stop-color="#00ff5e"/><stop offset="0.371" stop-color="#00ff3f"/><stop offset="0.402" stop-color="#28ff00"/><stop offset="0.433" stop-color="#57ff00"/><stop offset="0.464" stop-color="#72ff00"/><stop offset="0.495" stop-color="#87ff00"/><stop offset="0.526" stop-color="#98ff00"/><stop offset="0.557" stop-color="#a7ff00"/><stop offset="0.588" stop-color="#b5ff00"/><stop offset="0.619" stop-color="#c1ff00"/><stop offset="0.649" stop-color="#cdff00"/><stop offset="0.680" stop-color="#d7ff00"/><stop offset="0.711" stop-color="#e1ff00"/><stop offset="0.742" stop-color="#ebff00"/><stop offset="0.773" stop-color="#f4ff00"/><stop offset="0.804" stop-color="#fcff00"/><stop offset="0.835" stop-color="#fffa00"/><stop offset="0.866" stop-color="#fff200"/><stop offset="0.897" stop-color="#ffec00"/><stop offset="0.928" stop-color="#ffe600"/><stop offset="0.959" stop-color="#ffe000"/><stop offset="0.990" stop-color="#ffdb00"/><stop offset="1.000" stop-color="#ffd600"/></linearGradient><linearGradient id="g4" gradientUnits="userSpaceOnUse" x1="338" y1="0" x2="532" y2="0"><stop offset="0.000" stop-color="#00ffb9"/><stop offset="0.031" stop-color="#00ffb6"/><stop offset="0.062" stop-color="#00ffb2"/><stop offset="0.093" stop-color="#00ffae"/><stop offset="0.124" stop-color="#00ffa9"/><stop offset="0.155" stop-color="#00ffa3"/><stop offset="0.186" stop-color="#00ff9d"/><stop offset="0.216" stop-color="#00ff95"/><stop offset="0.247" stop-color="#00ff8c"/><stop offset="0.278" stop-color="#00ff81"/><stop offset="0.309" stop-color="#00ff73"/><stop offset="0.340" stop-color="#00ff5f"/><stop offset="0.371" stop-color="#00ff40"/><stop offset="0.402" stop-color="#27ff00"/><stop offset="0.433" stop-color="#57ff00"/><stop offset="0.464" stop-color="#73ff00"/><stop offset="0.495" stop-color="#88ff00"/><stop offset="0.526" stop-color="#99ff00"/><stop offset="0.557" stop-color="#a9ff00"/><stop offset="0.588" stop-color="#b7ff00"/><stop offset="0.619" stop-color="#c3ff00"/><stop offset="0.649" stop-color="#cfff00"/><stop offset="0.680" stop-color="#d9ff00"/><stop offset="0.711" stop-color="#e3ff00"/><stop offset="0.742" stop-color="#edff00"/><stop offset="0.773" stop-color="#f6ff00"/><stop offset="0.804" stop-color="#ffff00"/><stop offset="0.835" stop-color="#fff700"/><stop offset="0.866" stop-color="#fff000"/><stop offset="0.897" stop-color="#ffe900"/><stop offset="0.928" stop-color="#ffe300"/><stop offset="0.959" stop-color="#ffde00"/><stop offset="0.990" stop-color="#ffd800"/><stop offset="1.000" stop-color="#ffd400"/></linearGradient><linearGradient id="g5" gradientUnits="userSpaceOnUse" x1="338" y1="0" x2="532" y2="0"><stop offset="0.000" stop-color="#00ffbb"/><stop offset="0.031" stop-color="#00ffb7"/><stop offset="0.062" stop-color="#00ffb3"/><stop offset="0.093" stop-color="#00ffaf"/><stop offset="0.124" stop-color="#00ffaa"/><stop offset="0.155" stop-color="#00ffa4"/><stop offset="0.186" stop-color="#00ff9e"/><stop offset="0.216" stop-color="#00ff96"/><stop offset="0.247" stop-color="#00ff8d"/><stop offset="0.278" stop-color="#00ff82"/><stop offset="0.309" stop-color="#00ff74"/><stop offset="0.340" stop-color="#00ff61"/><stop offset="0.371" stop-color="#00ff42"/><stop offset="0.402" stop-color="#26ff00"/><stop offset="0.433" stop-color="#57ff00"/><stop offset="0.464" stop-color="#74ff00"/><stop offset="0.495" stop-color="#89ff00"/><stop offset="0.526" stop-color="#9bff00"/><stop offset="0.557" stop-color="#aaff00"/><stop offset="0.588" stop-color="#b8ff00"/><stop offset="0.619" stop-color="#c5ff00"/><stop offset="0.649" stop-color="#d1ff00"/><stop offset="0.680" stop-color="#dcff00"/><stop offset="0.711" stop-color="#e6ff00"/><stop offset="0.742" stop-color="#f0ff00"/><stop offset="0.773" stop-color="#f9ff00"/><stop offset="0.804" stop-color="#fffd00"/><stop offset="0.835" stop-color="#fff500"/><stop offset="0.866" stop-color="#ffed00"/><stop offset="0.897" stop-color="#ffe700"/><stop offset="0.928" stop-color="#ffe100"/><stop offset="0.959" stop-color="#ffdb00"/><stop offset="0.990" stop-color="#ffd600"/><stop offset="1.000" stop-color="#ffd100"/></linearGradient><linearGradient id="g6" gradientUnits="userSpaceOnUse" x1="338" y1="0" x2="532" y2="0"><stop offset="0.000" stop-color="#00ffbc"/><stop offset="0.031" stop-color="#00ffb8"/><stop offset="0.062" stop-color="#00ffb5"/><stop offset="0.093" stop-color="#00ffb0"/><stop offset="0.124" stop-color="#00ffab"/><stop offset="0.155" stop-color="#00ffa6"/><stop offset="0.186" stop-color="#00ff9f"/><stop offset="0.216" stop-color="#00ff98"/><stop offset="0.247" stop-color="#00ff8f"/><stop offset="0.278" stop-color="#00ff84"/><stop offset="0.309" stop-color="#00ff76"/><stop offset="0.340" stop-color="#00ff62"/><stop offset="0.371" stop-color="#00ff44"/><stop offset="0.402" stop-color="#24ff00"/><stop offset="0.433" stop-color="#58ff00"/><stop offset="0.464" stop-color="#74ff00"/><stop offset="0.495" stop-color="#8aff00"/><stop offset="0.526" stop-color="#9cff00"/><stop offset="0.557" stop-color="#acff00"/><stop offset="0.588" stop-color="#baff00"/><stop offset="0.619" stop-color="#c7ff00"/><stop offset="0.649" stop-color="#d3ff00"/><stop offset="0.680" stop-color="#deff00"/><stop offset="0.711" stop-color="#e8ff00"/><stop offset="0.742" stop-color="#f2ff00"/><stop offset="0.773" stop-color="#fbff00"/><stop offset="0.804" stop-color="#fffa00"/><stop offset="0.835" stop-color="#fff200"/><stop offset="0.866" stop-color="#ffeb00"/><stop offset="0.897" stop-color="#ffe400"/><stop offset="0.928" stop-color="#ffde00"/><stop offset="0.959" stop-color="#ffd900"/><stop offset="0.990" stop-color="#ffd400"/><stop offset="1.000" stop-color="#ffcf00"/></linearGradient><linearGradient id="g7" gradientUnits="userSpaceOnUse" x1="338" y1="0" x2="532" y2="0"><stop offset="0.000" stop-color="#00ffbd"/><stop offset="0.031" stop-color="#00ffba"/><stop offset="0.062" stop-color="#00ffb6"/><stop offset="0.093" stop-color="#00ffb2"/><stop offset="0.124" stop-color="#00ffad"/><stop offset="0.155" stop-color="#00ffa7"/><stop offset="0.186" stop-color="#00ffa1"/><stop offset="0.216" stop-color="#00ff99"/><stop offset="0.247" stop-color="#00ff90"/><stop offset="0.278" stop-color="#00ff85"/><stop offset="0.309" stop-color="#00ff77"/><stop offset="0.340" stop-color="#00ff64"/><stop offset="0.371" stop-color="#00ff46"/><stop offset="0.402" stop-color="#22ff00"/><stop offset="0.433" stop-color="#58ff00"/><stop offset="0.464" stop-color="#75ff00"/><stop offset="0.495" stop-color="#8cff00"/><stop offset="0.526" stop-color="#9eff00"/><stop offset="0.557" stop-color="#aeff00"/><stop offset="0.588" stop-color="#bcff00"/><stop offset="0.619" stop-color="#c9ff00"/><stop offset="0.649" stop-color="#d5ff00"/><stop offset="0.680" stop-color="#e1ff00"/><stop offset="0.711" stop-color="#ebff00"/><stop offset="0.742" stop-color="#f5ff00"/><stop offset="0.773" stop-color="#feff00"/><stop offset="0.804" stop-color="#fff700"/><stop offset="0.835" stop-color="#ffef00"/><stop offset="0.866" stop-color="#ffe800"/><stop offset="0.897" stop-color="#ffe200"/><stop offset="0.928" stop-color="#ffdc00"/><stop offset="0.959" stop-color="#ffd600"/><stop offset="0.990" stop-color="#ffd100"/><stop offset="1.000" stop-color="#ffcc00"/></linearGradient><linearGradient id="g8" gradientUnits="userSpaceOnUse" x1="338" y1="0" x2="532" y2="0"><stop offset="0.000" stop-color="#00ffbe"/><stop offset="0.031" stop-color="#00ffbb"/><stop offset="0.062" stop-color="#00ffb7"/><stop offset="0.093" stop-color="#00ffb3"/><stop offset="0.124" stop-color="#00ffae"/><stop offset="0.155" stop-color="#00ffa9"/><stop offset="0.186" stop-color="#00ffa2"/><stop offset="0.216" stop-color="#00ff9b"/><stop offset="0.247" stop-color="#00ff92"/><stop offset="0.278" stop-color="#00ff87"/><stop offset="0.309" stop-color="#00ff79"/><stop offset="0.340" stop-color="#00ff66"/><stop offset="0.371" stop-color="#00ff48"/><stop offset="0.402" stop-color="#20ff00"/><stop offset="0.433" stop-color="#58ff00"/><stop offset="0.464" stop-color="#76ff00"/><stop offset="0.495" stop-color="#8dff00"/><stop offset="0.526" stop-color="#a0ff00"/><stop offset="0.557" stop-color="#b0ff00"/><stop offset="0.588" stop-color="#beff00"/><stop offset="0.619" stop-color="#ccff00"/><stop offset="0.649" stop-color="#d8ff00"/><stop offset="0.680" stop-color="#e3ff00"/><stop offset="0.711" stop-color="#eeff00"/><stop offset="0.742" stop-color="#f8ff00"/><stop offset="0.773" stop-color="#fffd00"/><stop offset="0.804" stop-color="#fff400"/><stop offset="0.835" stop-color="#ffec00"/><stop offset="0.866" stop-color="#ffe500"/><stop offset="0.897" stop-color="#ffdf00"/><stop offset="0.928" stop-color="#ffd900"/><stop offset="0.959" stop-color="#ffd400"/><stop offset="0.990" stop-color="#ffcf00"/><stop offset="1.000" stop-color="#ffca00"/></linearGradient><linearGradient id="g9" gradientUnits="userSpaceOnUse" x1="338" y1="0" x2="532" y2="0"><stop offset="0.000" stop-color="#00ffc0"/><stop offset="0.031" stop-color="#00ffbc"/><stop offset="0.062" stop-color="#00ffb9"/><stop offset="0.093" stop-color="#00ffb4"/><stop offset="0.124" stop-color="#00ffb0"/><stop offset="0.155" stop-color="#00ffaa"/><stop offset="0.186" stop-color="#00ffa4"/><stop offset="0.216" stop-color="#00ff9d"/><stop offset="0.247" stop-color="#00ff94"/><stop offset="0.278" stop-color="#00ff89"/><stop offset="0.309" stop-color="#00ff7b"/><stop offset="0.340" stop-color="#00ff68"/><stop offset="0.371" stop-color="#00ff4a"/><stop offset="0.402" stop-color="#1eff00"/><stop offset="0.433" stop-color="#59ff00"/><stop offset="0.464" stop-color="#77ff00"/><stop offset="0.495" stop-color="#8eff00"/><stop offset="0.526" stop-color="#a1ff00"/><stop offset="0.557" stop-color="#b2ff00"/><stop offset="0.588" stop-color="#c1ff00"/><stop offset="0.619" stop-color="#ceff00"/><stop offset="0.649" stop-color="#daff00"/><stop offset="0.680" stop-color="#e6ff00"/><stop offset="0.711" stop-color="#f1ff00"/><stop offset="0.742" stop-color="#fbff00"/><stop offset="0.773" stop-color="#fffa00"/><stop offset="0.804" stop-color="#fff100"/><stop offset="0.835" stop-color="#ffe900"/><stop offset="0.866" stop-color="#ffe200"/><stop offset="0.897" stop-color="#ffdc00"/><stop offset="0.928" stop-color="#ffd600"/><stop offset="0.959" stop-color="#ffd100"/><stop offset="0.990" stop-color="#ffcc00"/><stop offset="1.000" stop-color="#ffc700"/></linearGradient><linearGradient id="g10" gradientUnits="userSpaceOnUse" x1="338" y1="0" x2="532" y2="0"><stop offset="0.000" stop-color="#00ffc1"/><stop offset="0.031" stop-color="#00ffbe"/><stop offset="0.062" stop-color="#00ffba"/><stop offset="0.093" stop-color="#00ffb6"/><stop offset="0.124" stop-color="#00ffb1"/><stop offset="0.155" stop-color="#00ffac"/><stop offset="0.186" stop-color="#00ffa6"/><stop offset="0.216" stop-color="#00ff9e"/><stop offset="0.247" stop-color="#00ff95"/><stop offset="0.278" stop-color="#00ff8b"/><stop offset="0.309" stop-color="#00ff7d"/><stop offset="0.340" stop-color="#00ff6a"/><stop offset="0.371" stop-color="#00ff4c"/><stop offset="0.402" stop-color="#1bff00"/><stop offset="0.433" stop-color="#59ff00"/><stop offset="0.464" stop-color="#78ff00"/><stop offset="0.495" stop-color="#90ff00"/><stop offset="0.526" stop-color="#a3ff00"/><stop offset="0.557" stop-color="#b4ff00"/><stop offset="0.588" stop-color="#c3ff00"/><stop offset="0.619" stop-color="#d0ff00"/><stop offset="0.649" stop-color="#ddff00"/><stop offset="0.680" stop-color="#e9ff00"/><stop offset="0.711" stop-color="#f4ff00"/><stop offset="0.742" stop-color="#feff00"/><stop offset="0.773" stop-color="#fff700"/><stop offset="0.804" stop-color="#ffee00"/><stop offset="0.835" stop-color="#ffe600"/><stop offset="0.866" stop-color="#ffe000"/><stop offset="0.897" stop-color="#ffd900"/><stop offset="0.928" stop-color="#ffd400"/><stop offset="0.959" stop-color="#ffce00"/><stop offset="0.990" stop-color="#ffc900"/><stop offset="1.000" stop-color="#ffc500"/></linearGradient><linearGradient id="g11" gradientUnits="userSpaceOnUse" x1="338" y1="0" x2="532" y2="0"><stop offset="0.000" stop-color="#00ffc2"/><stop offset="0.031" stop-color="#00ffbf"/><stop offset="0.062" stop-color="#00ffbb"/><stop offset="0.093" stop-color="#00ffb7"/><stop offset="0.124" stop-color="#00ffb3"/><stop offset="0.155" stop-color="#00ffad"/><stop offset="0.186" stop-color="#00ffa7"/><stop offset="0.216" stop-color="#00ffa0"/><stop offset="0.247" stop-color="#00ff97"/><stop offset="0.278" stop-color="#00ff8c"/><stop offset="0.309" stop-color="#00ff7e"/><stop offset="0.340" stop-color="#00ff6c"/><stop offset="0.371" stop-color="#00ff4e"/><stop offset="0.402" stop-color="#18ff00"/><stop offset="0.433" stop-color="#59ff00"/><stop offset="0.464" stop-color="#79ff00"/><stop offset="0.495" stop-color="#91ff00"/><stop offset="0.526" stop-color="#a5ff00"/><stop offset="0.557" stop-color="#b6ff00"/><stop offset="0.588" stop-color="#c5ff00"/><stop offset="0.619" stop-color="#d3ff00"/><stop offset="0.649" stop-color="#e0ff00"/><stop offset="0.680" stop-color="#ecff00"/><stop offset="0.711" stop-color="#f7ff00"/><stop offset="0.742" stop-color="#fffd00"/><stop offset="0.773" stop-color="#fff300"/><stop offset="0.804" stop-color="#ffeb00"/><stop offset="0.835" stop-color="#ffe300"/><stop offset="0.866" stop-color="#ffdd00"/><stop offset="0.897" stop-color="#ffd600"/><stop offset="0.928" stop-color="#ffd100"/><stop offset="0.959" stop-color="#ffcc00"/><stop offset="0.990" stop-color="#ffc700"/><stop offset="1.000" stop-color="#ffc200"/></linearGradient><linearGradient id="g12" gradientUnits="userSpaceOnUse" x1="338" y1="0" x2="532" y2="0"><stop offset="0.000" stop-color="#00ffc4"/><stop offset="0.031" stop-color="#00ffc0"/><stop offset="0.062" stop-color="#00ffbd"/><stop offset="0.093" stop-color="#00ffb9"/><stop offset="0.124" stop-color="#00ffb4"/><stop offset="0.155" stop-color="#00ffaf"/><stop offset="0.186" stop-color="#00ffa9"/><stop offset="0.216" stop-color="#00ffa2"/><stop offset="0.247" stop-color="#00ff99"/><stop offset="0.278" stop-color="#00ff8e"/><stop offset="0.309" stop-color="#00ff80"/><stop offset="0.340" stop-color="#00ff6d"/><stop offset="0.371" stop-color="#00ff50"/><stop offset="0.402" stop-color="#14ff00"/><stop offset="0.433" stop-color="#5aff00"/><stop offset="0.464" stop-color="#7bff00"/><stop offset="0.495" stop-color="#93ff00"/><stop offset="0.526" stop-color="#a7ff00"/><stop offset="0.557" stop-color="#b8ff00"/><stop offset="0.588" stop-color="#c8ff00"/><stop offset="0.619" stop-color="#d6ff00"/><stop offset="0.649" stop-color="#e3ff00"/><stop offset="0.680" stop-color="#efff00"/><stop offset="0.711" stop-color="#faff00"/><stop offset="0.742" stop-color="#fff900"/><stop offset="0.773" stop-color="#fff000"/><stop offset="0.804" stop-color="#ffe800"/><stop offset="0.835" stop-color="#ffe000"/><stop offset="0.866" stop-color="#ffda00"/><stop offset="0.897" stop-color="#ffd400"/><stop offset="0.928" stop-color="#ffce00"/><stop offset="0.959" stop-color="#ffc900"/><stop offset="0.990" stop-color="#ffc400"/><stop offset="1.000" stop-color="#ffbf00"/></linearGradient><linearGradient id="g13" gradientUnits="userSpaceOnUse" x1="338" y1="0" x2="532" y2="0"><stop offset="0.000" stop-color="#00ffc5"/><stop offset="0.031" stop-color="#00ffc2"/><stop offset="0.062" stop-color="#00ffbe"/><stop offset="0.093" stop-color="#00ffba"/><stop offset="0.124" stop-color="#00ffb6"/><stop offset="0.155" stop-color="#00ffb1"/><stop offset="0.186" stop-color="#00ffab"/><stop offset="0.216" stop-color="#00ffa3"/><stop offset="0.247" stop-color="#00ff9b"/><stop offset="0.278" stop-color="#00ff90"/><stop offset="0.309" stop-color="#00ff82"/><stop offset="0.340" stop-color="#00ff70"/><stop offset="0.371" stop-color="#00ff52"/><stop offset="0.402" stop-color="#0fff00"/><stop offset="0.433" stop-color="#5aff00"/><stop offset="0.464" stop-color="#7cff00"/><stop offset="0.495" stop-color="#95ff00"/><stop offset="0.526" stop-color="#a9ff00"/><stop offset="0.557" stop-color="#bbff00"/><stop offset="0.588" stop-color="#caff00"/><stop offset="0.619" stop-color="#d9ff00"/><stop offset="0.649" stop-color="#e6ff00"/><stop offset="0.680" stop-color="#f2ff00"/><stop offset="0.711" stop-color="#fdff00"/><stop offset="0.742" stop-color="#fff600"/><stop offset="0.773" stop-color="#ffed00"/><stop offset="0.804" stop-color="#ffe500"/><stop offset="0.835" stop-color="#ffdd00"/><stop offset="0.866" stop-color="#ffd700"/><stop offset="0.897" stop-color="#ffd100"/><stop offset="0.928" stop-color="#ffcb00"/><stop offset="0.959" stop-color="#ffc600"/><stop offset="0.990" stop-color="#ffc100"/><stop offset="1.000" stop-color="#ffbd00"/></linearGradient><linearGradient id="g14" gradientUnits="userSpaceOnUse" x1="338" y1="0" x2="532" y2="0"><stop offset="0.000" stop-color="#00ffc6"/><stop offset="0.031" stop-color="#00ffc3"/><stop offset="0.062" stop-color="#00ffc0"/><stop offset="0.093" stop-color="#00ffbc"/><stop offset="0.124" stop-color="#00ffb7"/><stop offset="0.155" stop-color="#00ffb2"/><stop offset="0.186" stop-color="#00ffac"/><stop offset="0.216" stop-color="#00ffa5"/><stop offset="0.247" stop-color="#00ff9d"/><stop offset="0.278" stop-color="#00ff92"/><stop offset="0.309" stop-color="#00ff84"/><stop offset="0.340" stop-color="#00ff72"/><stop offset="0.371" stop-color="#00ff55"/><stop offset="0.402" stop-color="#07ff00"/><stop offset="0.433" stop-color="#5bff00"/><stop offset="0.464" stop-color="#7dff00"/><stop offset="0.495" stop-color="#96ff00"/><stop offset="0.526" stop-color="#abff00"/><stop offset="0.557" stop-color="#bdff00"/><stop offset="0.588" stop-color="#cdff00"/><stop offset="0.619" stop-color="#dcff00"/><stop offset="0.649" stop-color="#e9ff00"/><stop offset="0.680" stop-color="#f5ff00"/><stop offset="0.711" stop-color="#fffd00"/><stop offset="0.742" stop-color="#fff300"/><stop offset="0.773" stop-color="#ffe900"/><stop offset="0.804" stop-color="#ffe100"/><stop offset="0.835" stop-color="#ffda00"/><stop offset="0.866" stop-color="#ffd300"/><stop offset="0.897" stop-color="#ffcd00"/><stop offset="0.928" stop-color="#ffc800"/><stop offset="0.959" stop-color="#ffc300"/><stop offset="0.990" stop-color="#ffbe00"/><stop offset="1.000" stop-color="#ffba00"/></linearGradient><linearGradient id="g15" gradientUnits="userSpaceOnUse" x1="338" y1="0" x2="532" y2="0"><stop offset="0.000" stop-color="#00ffc8"/><stop offset="0.031" stop-color="#00ffc5"/><stop offset="0.062" stop-color="#00ffc1"/><stop offset="0.093" stop-color="#00ffbe"/><stop offset="0.124" stop-color="#00ffb9"/><stop offset="0.155" stop-color="#00ffb4"/><stop offset="0.186" stop-color="#00ffae"/><stop offset="0.216" stop-color="#00ffa7"/><stop offset="0.247" stop-color="#00ff9f"/><stop offset="0.278" stop-color="#00ff94"/><stop offset="0.309" stop-color="#00ff86"/><stop offset="0.340" stop-color="#00ff74"/><stop offset="0.371" stop-color="#00ff57"/><stop offset="0.402" stop-color="#00ff01"/><stop offset="0.433" stop-color="#5bff00"/><stop offset="0.464" stop-color="#7eff00"/><stop offset="0.495" stop-color="#98ff00"/><stop offset="0.526" stop-color="#adff00"/><stop offset="0.557" stop-color="#c0ff00"/><stop offset="0.588" stop-color="#d0ff00"/><stop offset="0.619" stop-color="#dfff00"/><stop offset="0.649" stop-color="#ecff00"/><stop offset="0.680" stop-color="#f9ff00"/><stop offset="0.711" stop-color="#fff900"/><stop offset="0.742" stop-color="#ffef00"/><stop offset="0.773" stop-color="#ffe600"/><stop offset="0.804" stop-color="#ffde00"/><stop offset="0.835" stop-color="#ffd700"/><stop offset="0.866" stop-color="#ffd000"/><stop offset="0.897" stop-color="#ffca00"/><stop offset="0.928" stop-color="#ffc500"/><stop offset="0.959" stop-color="#ffc000"/><stop offset="0.990" stop-color="#ffbb00"/><stop offset="1.000" stop-color="#ffb700"/></linearGradient><linearGradient id="g16" gradientUnits="userSpaceOnUse" x1="338" y1="0" x2="532" y2="0"><stop offset="0.000" stop-color="#00ffc9"/><stop offset="0.031" stop-color="#00ffc6"/><stop offset="0.062" stop-color="#00ffc3"/><stop offset="0.093" stop-color="#00ffbf"/><stop offset="0.124" stop-color="#00ffbb"/><stop offset="0.155" stop-color="#00ffb6"/><stop offset="0.186" stop-color="#00ffb0"/><stop offset="0.216" stop-color="#00ffa9"/><stop offset="0.247" stop-color="#00ffa0"/><stop offset="0.278" stop-color="#00ff96"/><stop offset="0.309" stop-color="#00ff88"/><stop offset="0.340" stop-color="#00ff76"/><stop offset="0.371" stop-color="#00ff59"/><stop offset="0.402" stop-color="#00ff0a"/><stop offset="0.433" stop-color="#5cff00"/><stop offset="0.464" stop-color="#80ff00"/><stop offset="0.495" stop-color="#9aff00"/><stop offset="0.526" stop-color="#b0ff00"/><stop offset="0.557" stop-color="#c3ff00"/><stop offset="0.588" stop-color="#d3ff00"/><stop offset="0.619" stop-color="#e2ff00"/><stop offset="0.649" stop-color="#f0ff00"/><stop offset="0.680" stop-color="#fdff00"/><stop offset="0.711" stop-color="#fff600"/><stop offset="0.742" stop-color="#ffeb00"/><stop offset="0.773" stop-color="#ffe200"/><stop offset="0.804" stop-color="#ffdb00"/><stop offset="0.835" stop-color="#ffd300"/><stop offset="0.866" stop-color="#ffcd00"/><stop offset="0.897" stop-color="#ffc700"/><stop offset="0.928" stop-color="#ffc200"/><stop offset="0.959" stop-color="#ffbd00"/><stop offset="0.990" stop-color="#ffb800"/><stop offset="1.000" stop-color="#ffb400"/></linearGradient><linearGradient id="g17" gradientUnits="userSpaceOnUse" x1="338" y1="0" x2="532" y2="0"><stop offset="0.000" stop-color="#00ffcb"/><stop offset="0.031" stop-color="#00ffc8"/><stop offset="0.062" stop-color="#00ffc5"/><stop offset="0.093" stop-color="#00ffc1"/><stop offset="0.124" stop-color="#00ffbd"/><stop offset="0.155" stop-color="#00ffb8"/><stop offset="0.186" stop-color="#00ffb2"/><stop offset="0.216" stop-color="#00ffab"/><stop offset="0.247" stop-color="#00ffa3"/><stop offset="0.278" stop-color="#00ff98"/><stop offset="0.309" stop-color="#00ff8b"/><stop offset="0.340" stop-color="#00ff78"/><stop offset="0.371" stop-color="#00ff5c"/><stop offset="0.402" stop-color="#00ff12"/><stop offset="0.433" stop-color="#5cff00"/><stop offset="0.464" stop-color="#81ff00"/><stop offset="0.495" stop-color="#9cff00"/><stop offset="0.526" stop-color="#b2ff00"/><stop offset="0.557" stop-color="#c5ff00"/><stop offset="0.588" stop-color="#d6ff00"/><stop offset="0.619" stop-color="#e6ff00"/><stop offset="0.649" stop-color="#f4ff00"/><stop offset="0.680" stop-color="#fffd00"/><stop offset="0.711" stop-color="#fff200"/><stop offset="0.742" stop-color="#ffe800"/><stop offset="0.773" stop-color="#ffdf00"/><stop offset="0.804" stop-color="#ffd700"/><stop offset="0.835" stop-color="#ffd000"/><stop offset="0.866" stop-color="#ffca00"/><stop offset="0.897" stop-color="#ffc400"/><stop offset="0.928" stop-color="#ffbf00"/><stop offset="0.959" stop-color="#ffba00"/><stop offset="0.990" stop-color="#ffb500"/><stop offset="1.000" stop-color="#ffb100"/></linearGradient><linearGradient id="g18" gradientUnits="userSpaceOnUse" x1="338" y1="0" x2="532" y2="0"><stop offset="0.000" stop-color="#00ffcc"/><stop offset="0.031" stop-color="#00ffc9"/><stop offset="0.062" stop-color="#00ffc6"/><stop offset="0.093" stop-color="#00ffc2"/><stop offset="0.124" stop-color="#00ffbe"/><stop offset="0.155" stop-color="#00ffb9"/><stop offset="0.186" stop-color="#00ffb4"/><stop offset="0.216" stop-color="#00ffad"/><stop offset="0.247" stop-color="#00ffa5"/><stop offset="0.278" stop-color="#00ff9a"/><stop offset="0.309" stop-color="#00ff8d"/><stop offset="0.340" stop-color="#00ff7b"/><stop offset="0.371" stop-color="#00ff5e"/><stop offset="0.402" stop-color="#00ff18"/><stop offset="0.433" stop-color="#5dff00"/><stop offset="0.464" stop-color="#83ff00"/><stop offset="0.495" stop-color="#9fff00"/><stop offset="0.526" stop-color="#b5ff00"/><stop offset="0.557" stop-color="#c9ff00"/><stop offset="0.588" stop-color="#daff00"/><stop offset="0.619" stop-color="#e9ff00"/><stop offset="0.649" stop-color="#f8ff00"/><stop offset="0.680" stop-color="#fff900"/><stop offset="0.711" stop-color="#ffee00"/><stop offset="0.742" stop-color="#ffe400"/><stop offset="0.773" stop-color="#ffdb00"/><stop offset="0.804" stop-color="#ffd300"/><stop offset="0.835" stop-color="#ffcc00"/><stop offset="0.866" stop-color="#ffc600"/><stop offset="0.897" stop-color="#ffc100"/><stop offset="0.928" stop-color="#ffbb00"/><stop offset="0.959" stop-color="#ffb700"/><stop offset="0.990" stop-color="#ffb200"/><stop offset="1.000" stop-color="#ffae00"/></linearGradient><linearGradient id="g19" gradientUnits="userSpaceOnUse" x1="338" y1="0" x2="532" y2="0"><stop offset="0.000" stop-color="#00ffce"/><stop offset="0.031" stop-color="#00ffcb"/><stop offset="0.062" stop-color="#00ffc8"/><stop offset="0.093" stop-color="#00ffc4"/><stop offset="0.124" stop-color="#00ffc0"/><stop offset="0.155" stop-color="#00ffbb"/><stop offset="0.186" stop-color="#00ffb6"/><stop offset="0.216" stop-color="#00ffaf"/><stop offset="0.247" stop-color="#00ffa7"/><stop offset="0.278" stop-color="#00ff9d"/><stop offset="0.309" stop-color="#00ff8f"/><stop offset="0.340" stop-color="#00ff7d"/><stop offset="0.371" stop-color="#00ff61"/><stop offset="0.402" stop-color="#00ff1d"/><stop offset="0.433" stop-color="#5dff00"/><stop offset="0.464" stop-color="#85ff00"/><stop offset="0.495" stop-color="#a1ff00"/><stop offset="0.526" stop-color="#b8ff00"/><stop offset="0.557" stop-color="#ccff00"/><stop offset="0.588" stop-color="#ddff00"/><stop offset="0.619" stop-color="#edff00"/><stop offset="0.649" stop-color="#fcff00"/><stop offset="0.680" stop-color="#fff500"/><stop offset="0.711" stop-color="#ffea00"/><stop offset="0.742" stop-color="#ffe000"/><stop offset="0.773" stop-color="#ffd700"/><stop offset="0.804" stop-color="#ffd000"/><stop offset="0.835" stop-color="#ffc900"/><stop offset="0.866" stop-color="#ffc300"/><stop offset="0.897" stop-color="#ffbd00"/><stop offset="0.928" stop-color="#ffb800"/><stop offset="0.959" stop-color="#ffb300"/><stop offset="0.990" stop-color="#ffaf00"/><stop offset="1.000" stop-color="#ffab00"/></linearGradient><linearGradient id="g20" gradientUnits="userSpaceOnUse" x1="338" y1="0" x2="532" y2="0"><stop offset="0.000" stop-color="#00ffcf"/><stop offset="0.031" stop-color="#00ffcd"/><stop offset="0.062" stop-color="#00ffca"/><stop offset="0.093" stop-color="#00ffc6"/><stop offset="0.124" stop-color="#00ffc2"/><stop offset="0.155" stop-color="#00ffbd"/><stop offset="0.186" stop-color="#00ffb8"/><stop offset="0.216" stop-color="#00ffb1"/><stop offset="0.247" stop-color="#00ffa9"/><stop offset="0.278" stop-color="#00ff9f"/><stop offset="0.309" stop-color="#00ff92"/><stop offset="0.340" stop-color="#00ff80"/><stop offset="0.371" stop-color="#00ff64"/><stop offset="0.402" stop-color="#00ff22"/><stop offset="0.433" stop-color="#5eff00"/><stop offset="0.464" stop-color="#87ff00"/><stop offset="0.495" stop-color="#a4ff00"/><stop offset="0.526" stop-color="#bbff00"/><stop offset="0.557" stop-color="#cfff00"/><stop offset="0.588" stop-color="#e1ff00"/><stop offset="0.619" stop-color="#f2ff00"/><stop offset="0.649" stop-color="#fffe00"/><stop offset="0.680" stop-color="#fff000"/><stop offset="0.711" stop-color="#ffe500"/><stop offset="0.742" stop-color="#ffdc00"/><stop offset="0.773" stop-color="#ffd300"/><stop offset="0.804" stop-color="#ffcc00"/><stop offset="0.835" stop-color="#ffc500"/><stop offset="0.866" stop-color="#ffbf00"/><stop offset="0.897" stop-color="#ffba00"/><stop offset="0.928" stop-color="#ffb500"/><stop offset="0.959" stop-color="#ffb000"/><stop offset="0.990" stop-color="#ffac00"/><stop offset="1.000" stop-color="#ffa800"/></linearGradient><linearGradient id="g21" gradientUnits="userSpaceOnUse" x1="338" y1="0" x2="532" y2="0"><stop offset="0.000" stop-color="#00ffd1"/><stop offset="0.031" stop-color="#00ffce"/><stop offset="0.062" stop-color="#00ffcb"/><stop offset="0.093" stop-color="#00ffc8"/><stop offset="0.124" stop-color="#00ffc4"/><stop offset="0.155" stop-color="#00ffbf"/><stop offset="0.186" stop-color="#00ffba"/><stop offset="0.216" stop-color="#00ffb3"/><stop offset="0.247" stop-color="#00ffab"/><stop offset="0.278" stop-color="#00ffa1"/><stop offset="0.309" stop-color="#00ff94"/><stop offset="0.340" stop-color="#00ff82"/><stop offset="0.371" stop-color="#00ff66"/><stop offset="0.402" stop-color="#00ff27"/><stop offset="0.433" stop-color="#5fff00"/><stop offset="0.464" stop-color="#89ff00"/><stop offset="0.495" stop-color="#a6ff00"/><stop offset="0.526" stop-color="#beff00"/><stop offset="0.557" stop-color="#d3ff00"/><stop offset="0.588" stop-color="#e5ff00"/><stop offset="0.619" stop-color="#f6ff00"/><stop offset="0.649" stop-color="#fff900"/><stop offset="0.680" stop-color="#ffec00"/><stop offset="0.711" stop-color="#ffe100"/><stop offset="0.742" stop-color="#ffd800"/><stop offset="0.773" stop-color="#ffcf00"/><stop offset="0.804" stop-color="#ffc800"/><stop offset="0.835" stop-color="#ffc100"/><stop offset="0.866" stop-color="#ffbb00"/><stop offset="0.897" stop-color="#ffb600"/><stop offset="0.928" stop-color="#ffb100"/><stop offset="0.959" stop-color="#ffac00"/><stop offset="0.990" stop-color="#ffa800"/><stop offset="1.000" stop-color="#ffa400"/></linearGradient><linearGradient id="g22" gradientUnits="userSpaceOnUse" x1="338" y1="0" x2="532" y2="0"><stop offset="0.000" stop-color="#00ffd3"/><stop offset="0.031" stop-color="#00ffd0"/><stop offset="0.062" stop-color="#00ffcd"/><stop offset="0.093" stop-color="#00ffca"/><stop offset="0.124" stop-color="#00ffc6"/><stop offset="0.155" stop-color="#00ffc1"/><stop offset="0.186" stop-color="#00ffbc"/><stop offset="0.216" stop-color="#00ffb6"/><stop offset="0.247" stop-color="#00ffae"/><stop offset="0.278" stop-color="#00ffa4"/><stop offset="0.309" stop-color="#00ff97"/><stop offset="0.340" stop-color="#00ff85"/><stop offset="0.371" stop-color="#00ff69"/><stop offset="0.402" stop-color="#1eff36"/><stop offset="0.433" stop-color="#63ff18"/><stop offset="0.464" stop-color="#8bff00"/><stop offset="0.495" stop-color="#a9ff00"/><stop offset="0.526" stop-color="#c2ff00"/><stop offset="0.557" stop-color="#d7ff00"/><stop offset="0.588" stop-color="#eaff00"/><stop offset="0.619" stop-color="#fbff00"/><stop offset="0.649" stop-color="#fff400"/><stop offset="0.680" stop-color="#ffe700"/><stop offset="0.711" stop-color="#ffdd00"/><stop offset="0.742" stop-color="#ffd300"/><stop offset="0.773" stop-color="#ffcb00"/><stop offset="0.804" stop-color="#ffc400"/><stop offset="0.835" stop-color="#ffbd00"/><stop offset="0.866" stop-color="#ffb800"/><stop offset="0.897" stop-color="#ffb200"/><stop offset="0.928" stop-color="#ffad00"/><stop offset="0.959" stop-color="#ffa900"/><stop offset="0.990" stop-color="#ffa500"/><stop offset="1.000" stop-color="#ffa100"/></linearGradient><linearGradient id="g23" gradientUnits="userSpaceOnUse" x1="338" y1="0" x2="532" y2="0"><stop offset="0.000" stop-color="#00ffd4"/><stop offset="0.031" stop-color="#00ffd2"/><stop offset="0.062" stop-color="#00ffcf"/><stop offset="0.093" stop-color="#00ffcc"/><stop offset="0.124" stop-color="#00ffc8"/><stop offset="0.155" stop-color="#00ffc3"/><stop offset="0.186" stop-color="#00ffbe"/><stop offset="0.216" stop-color="#00ffb8"/><stop offset="0.247" stop-color="#00ffb0"/><stop offset="0.278" stop-color="#00ffa6"/><stop offset="0.309" stop-color="#00ff9a"/><stop offset="0.340" stop-color="#00ff88"/><stop offset="0.371" stop-color="#00ff6c"/><stop offset="0.402" stop-color="#30ff44"/><stop offset="0.433" stop-color="#6aff30"/><stop offset="0.464" stop-color="#8dff00"/><stop offset="0.495" stop-color="#acff00"/><stop offset="0.526" stop-color="#c6ff00"/><stop offset="0.557" stop-color="#dcff00"/><stop offset="0.588" stop-color="#efff00"/><stop offset="0.619" stop-color="#fffe00"/><stop offset="0.649" stop-color="#ffef00"/><stop offset="0.680" stop-color="#ffe300"/><stop offset="0.711" stop-color="#ffd800"/><stop offset="0.742" stop-color="#ffcf00"/><stop offset="0.773" stop-color="#ffc700"/><stop offset="0.804" stop-color="#ffc000"/><stop offset="0.835" stop-color="#ffb900"/><stop offset="0.866" stop-color="#ffb400"/><stop offset="0.897" stop-color="#ffae00"/><stop offset="0.928" stop-color="#ffaa00"/><stop offset="0.959" stop-color="#ffa500"/><stop offset="0.990" stop-color="#ffa100"/><stop offset="1.000" stop-color="#ff9d00"/></linearGradient><linearGradient id="g24" gradientUnits="userSpaceOnUse" x1="338" y1="0" x2="532" y2="0"><stop offset="0.000" stop-color="#00ffd6"/><stop offset="0.031" stop-color="#00ffd4"/><stop offset="0.062" stop-color="#00ffd1"/><stop offset="0.093" stop-color="#00ffce"/><stop offset="0.124" stop-color="#00ffca"/><stop offset="0.155" stop-color="#00ffc6"/><stop offset="0.186" stop-color="#00ffc0"/><stop offset="0.216" stop-color="#00ffba"/><stop offset="0.247" stop-color="#00ffb3"/><stop offset="0.278" stop-color="#00ffa9"/><stop offset="0.309" stop-color="#00ff9d"/><stop offset="0.340" stop-color="#00ff8b"/><stop offset="0.371" stop-color="#00ff70"/><stop offset="0.402" stop-color="#3eff50"/><stop offset="0.433" stop-color="#71ff40"/><stop offset="0.464" stop-color="#93ff27"/><stop offset="0.495" stop-color="#b0ff00"/><stop offset="0.526" stop-color="#caff00"/><stop offset="0.557" stop-color="#e0ff00"/><stop offset="0.588" stop-color="#f4ff00"/><stop offset="0.619" stop-color="#fff800"/><stop offset="0.649" stop-color="#ffea00"/><stop offset="0.680" stop-color="#ffde00"/><stop offset="0.711" stop-color="#ffd300"/><stop offset="0.742" stop-color="#ffca00"/><stop offset="0.773" stop-color="#ffc200"/><stop offset="0.804" stop-color="#ffbb00"/><stop offset="0.835" stop-color="#ffb500"/><stop offset="0.866" stop-color="#ffaf00"/><stop offset="0.897" stop-color="#ffaa00"/><stop offset="0.928" stop-color="#ffa600"/><stop offset="0.959" stop-color="#ffa100"/><stop offset="0.990" stop-color="#ff9d00"/><stop offset="1.000" stop-color="#ff9a00"/></linearGradient><linearGradient id="g25" gradientUnits="userSpaceOnUse" x1="338" y1="0" x2="532" y2="0"><stop offset="0.000" stop-color="#00ffd8"/><stop offset="0.031" stop-color="#00ffd5"/><stop offset="0.062" stop-color="#00ffd3"/><stop offset="0.093" stop-color="#00ffd0"/><stop offset="0.124" stop-color="#00ffcc"/><stop offset="0.155" stop-color="#00ffc8"/><stop offset="0.186" stop-color="#00ffc3"/><stop offset="0.216" stop-color="#00ffbd"/><stop offset="0.247" stop-color="#00ffb5"/><stop offset="0.278" stop-color="#00ffac"/><stop offset="0.309" stop-color="#00ffa0"/><stop offset="0.340" stop-color="#00ff8e"/><stop offset="0.371" stop-color="#00ff73"/><stop offset="0.402" stop-color="#49ff5b"/><stop offset="0.433" stop-color="#78ff4d"/><stop offset="0.464" stop-color="#99ff3b"/><stop offset="0.495" stop-color="#b5ff1a"/><stop offset="0.526" stop-color="#ceff00"/><stop offset="0.557" stop-color="#e5ff00"/><stop offset="0.588" stop-color="#f9ff00"/><stop offset="0.619" stop-color="#fff300"/><stop offset="0.649" stop-color="#ffe400"/><stop offset="0.680" stop-color="#ffd800"/><stop offset="0.711" stop-color="#ffce00"/><stop offset="0.742" stop-color="#ffc500"/><stop offset="0.773" stop-color="#ffbe00"/><stop offset="0.804" stop-color="#ffb700"/><stop offset="0.835" stop-color="#ffb100"/><stop offset="0.866" stop-color="#ffab00"/><stop offset="0.897" stop-color="#ffa600"/><stop offset="0.928" stop-color="#ffa200"/><stop offset="0.959" stop-color="#ff9d00"/><stop offset="0.990" stop-color="#ff9a00"/><stop offset="1.000" stop-color="#ff9600"/></linearGradient><linearGradient id="g26" gradientUnits="userSpaceOnUse" x1="338" y1="0" x2="532" y2="0"><stop offset="0.000" stop-color="#00ffda"/><stop offset="0.031" stop-color="#00ffd7"/><stop offset="0.062" stop-color="#00ffd5"/><stop offset="0.093" stop-color="#00ffd2"/><stop offset="0.124" stop-color="#00ffce"/><stop offset="0.155" stop-color="#00ffca"/><stop offset="0.186" stop-color="#00ffc5"/><stop offset="0.216" stop-color="#00ffbf"/><stop offset="0.247" stop-color="#00ffb8"/><stop offset="0.278" stop-color="#00ffaf"/><stop offset="0.309" stop-color="#00ffa3"/><stop offset="0.340" stop-color="#00ff91"/><stop offset="0.371" stop-color="#00ff76"/><stop offset="0.402" stop-color="#53ff64"/><stop offset="0.433" stop-color="#7fff59"/><stop offset="0.464" stop-color="#a0ff4a"/><stop offset="0.495" stop-color="#bbff34"/><stop offset="0.526" stop-color="#d3ff00"/><stop offset="0.557" stop-color="#ebff00"/><stop offset="0.588" stop-color="#fffe00"/><stop offset="0.619" stop-color="#ffed00"/><stop offset="0.649" stop-color="#ffdf00"/><stop offset="0.680" stop-color="#ffd300"/><stop offset="0.711" stop-color="#ffc900"/><stop offset="0.742" stop-color="#ffc100"/><stop offset="0.773" stop-color="#ffb900"/><stop offset="0.804" stop-color="#ffb200"/><stop offset="0.835" stop-color="#ffac00"/><stop offset="0.866" stop-color="#ffa700"/><stop offset="0.897" stop-color="#ffa200"/><stop offset="0.928" stop-color="#ff9d00"/><stop offset="0.959" stop-color="#ff9900"/><stop offset="0.990" stop-color="#ff9600"/><stop offset="1.000" stop-color="#ff9200"/></linearGradient><linearGradient id="g27" gradientUnits="userSpaceOnUse" x1="338" y1="0" x2="532" y2="0"><stop offset="0.000" stop-color="#00ffdb"/><stop offset="0.031" stop-color="#00ffd9"/><stop offset="0.062" stop-color="#00ffd7"/><stop offset="0.093" stop-color="#00ffd4"/><stop offset="0.124" stop-color="#00ffd0"/><stop offset="0.155" stop-color="#00ffcc"/><stop offset="0.186" stop-color="#00ffc8"/><stop offset="0.216" stop-color="#00ffc2"/><stop offset="0.247" stop-color="#00ffbb"/><stop offset="0.278" stop-color="#00ffb2"/><stop offset="0.309" stop-color="#00ffa6"/><stop offset="0.340" stop-color="#00ff95"/><stop offset="0.371" stop-color="#00ff7a"/><stop offset="0.402" stop-color="#5cff6e"/><stop offset="0.433" stop-color="#86ff63"/><stop offset="0.464" stop-color="#a6ff57"/><stop offset="0.495" stop-color="#c1ff46"/><stop offset="0.526" stop-color="#daff2c"/><stop offset="0.557" stop-color="#f1ff00"/><stop offset="0.588" stop-color="#fff800"/><stop offset="0.619" stop-color="#ffe700"/><stop offset="0.649" stop-color="#ffd900"/><stop offset="0.680" stop-color="#ffce00"/><stop offset="0.711" stop-color="#ffc400"/><stop offset="0.742" stop-color="#ffbb00"/><stop offset="0.773" stop-color="#ffb400"/><stop offset="0.804" stop-color="#ffad00"/><stop offset="0.835" stop-color="#ffa800"/><stop offset="0.866" stop-color="#ffa200"/><stop offset="0.897" stop-color="#ff9d00"/><stop offset="0.928" stop-color="#ff9900"/><stop offset="0.959" stop-color="#ff9500"/><stop offset="0.990" stop-color="#ff9100"/><stop offset="1.000" stop-color="#ff8e00"/></linearGradient><linearGradient id="g28" gradientUnits="userSpaceOnUse" x1="338" y1="0" x2="532" y2="0"><stop offset="0.000" stop-color="#00ffdd"/><stop offset="0.031" stop-color="#00ffdb"/><stop offset="0.062" stop-color="#00ffd9"/><stop offset="0.093" stop-color="#00ffd6"/><stop offset="0.124" stop-color="#00ffd3"/><stop offset="0.155" stop-color="#00ffcf"/><stop offset="0.186" stop-color="#00ffca"/><stop offset="0.216" stop-color="#00ffc5"/><stop offset="0.247" stop-color="#00ffbe"/><stop offset="0.278" stop-color="#00ffb5"/><stop offset="0.309" stop-color="#00ffa9"/><stop offset="0.340" stop-color="#00ff99"/><stop offset="0.371" stop-color="#04ff7e"/><stop offset="0.402" stop-color="#65ff77"/><stop offset="0.433" stop-color="#8dff6d"/><stop offset="0.464" stop-color="#adff62"/><stop offset="0.495" stop-color="#c8ff54"/><stop offset="0.526" stop-color="#e0ff41"/><stop offset="0.557" stop-color="#f8ff1e"/><stop offset="0.588" stop-color="#fff100"/><stop offset="0.619" stop-color="#ffe100"/><stop offset="0.649" stop-color="#ffd300"/><stop offset="0.680" stop-color="#ffc800"/><stop offset="0.711" stop-color="#ffbe00"/><stop offset="0.742" stop-color="#ffb600"/><stop offset="0.773" stop-color="#ffaf00"/><stop offset="0.804" stop-color="#ffa800"/><stop offset="0.835" stop-color="#ffa300"/><stop offset="0.866" stop-color="#ff9e00"/><stop offset="0.897" stop-color="#ff9900"/><stop offset="0.928" stop-color="#ff9500"/><stop offset="0.959" stop-color="#ff9100"/><stop offset="0.990" stop-color="#ff8d00"/><stop offset="1.000" stop-color="#ff8a00"/></linearGradient><linearGradient id="g29" gradientUnits="userSpaceOnUse" x1="338" y1="0" x2="532" y2="0"><stop offset="0.000" stop-color="#00ffdf"/><stop offset="0.031" stop-color="#00ffdd"/><stop offset="0.062" stop-color="#00ffdb"/><stop offset="0.093" stop-color="#00ffd8"/><stop offset="0.124" stop-color="#00ffd5"/><stop offset="0.155" stop-color="#00ffd1"/><stop offset="0.186" stop-color="#00ffcd"/><stop offset="0.216" stop-color="#00ffc8"/><stop offset="0.247" stop-color="#00ffc1"/><stop offset="0.278" stop-color="#00ffb8"/><stop offset="0.309" stop-color="#00ffad"/><stop offset="0.340" stop-color="#00ff9c"/><stop offset="0.371" stop-color="#27ff86"/><stop offset="0.402" stop-color="#6dff7f"/><stop offset="0.433" stop-color="#94ff77"/><stop offset="0.464" stop-color="#b3ff6d"/><stop offset="0.495" stop-color="#ceff61"/><stop offset="0.526" stop-color="#e7ff51"/><stop offset="0.557" stop-color="#ffff3a"/><stop offset="0.588" stop-color="#ffea00"/><stop offset="0.619" stop-color="#ffda00"/><stop offset="0.649" stop-color="#ffcd00"/><stop offset="0.680" stop-color="#ffc200"/><stop offset="0.711" stop-color="#ffb800"/><stop offset="0.742" stop-color="#ffb000"/><stop offset="0.773" stop-color="#ffa900"/><stop offset="0.804" stop-color="#ffa300"/><stop offset="0.835" stop-color="#ff9e00"/><stop offset="0.866" stop-color="#ff9900"/><stop offset="0.897" stop-color="#ff9400"/><stop offset="0.928" stop-color="#ff9000"/><stop offset="0.959" stop-color="#ff8c00"/><stop offset="0.990" stop-color="#ff8900"/><stop offset="1.000" stop-color="#ff8500"/></linearGradient><linearGradient id="g30" gradientUnits="userSpaceOnUse" x1="338" y1="0" x2="532" y2="0"><stop offset="0.000" stop-color="#00ffe1"/><stop offset="0.031" stop-color="#00ffdf"/><stop offset="0.062" stop-color="#00ffdd"/><stop offset="0.093" stop-color="#00ffdb"/><stop offset="0.124" stop-color="#00ffd8"/><stop offset="0.155" stop-color="#00ffd4"/><stop offset="0.186" stop-color="#00ffd0"/><stop offset="0.216" stop-color="#00ffcb"/><stop offset="0.247" stop-color="#00ffc4"/><stop offset="0.278" stop-color="#00ffbc"/><stop offset="0.309" stop-color="#00ffb1"/><stop offset="0.340" stop-color="#00ffa1"/><stop offset="0.371" stop-color="#39ff8e"/><stop offset="0.402" stop-color="#76ff88"/><stop offset="0.433" stop-color="#9bff80"/><stop offset="0.464" stop-color="#baff77"/><stop offset="0.495" stop-color="#d5ff6d"/><stop offset="0.526" stop-color="#eeff5f"/><stop offset="0.557" stop-color="#fff84b"/><stop offset="0.588" stop-color="#ffe32b"/><stop offset="0.619" stop-color="#ffd300"/><stop offset="0.649" stop-color="#ffc600"/><stop offset="0.680" stop-color="#ffbb00"/><stop offset="0.711" stop-color="#ffb200"/><stop offset="0.742" stop-color="#ffab00"/><stop offset="0.773" stop-color="#ffa400"/><stop offset="0.804" stop-color="#ff9e00"/><stop offset="0.835" stop-color="#ff9800"/><stop offset="0.866" stop-color="#ff9300"/><stop offset="0.897" stop-color="#ff8f00"/><stop offset="0.928" stop-color="#ff8b00"/><stop offset="0.959" stop-color="#ff8700"/><stop offset="0.990" stop-color="#ff8400"/><stop offset="1.000" stop-color="#ff8100"/></linearGradient><linearGradient id="g31" gradientUnits="userSpaceOnUse" x1="338" y1="0" x2="532" y2="0"><stop offset="0.000" stop-color="#00ffe3"/><stop offset="0.031" stop-color="#00ffe1"/><stop offset="0.062" stop-color="#00ffdf"/><stop offset="0.093" stop-color="#00ffdd"/><stop offset="0.124" stop-color="#00ffda"/><stop offset="0.155" stop-color="#00ffd7"/><stop offset="0.186" stop-color="#00ffd3"/><stop offset="0.216" stop-color="#00ffce"/><stop offset="0.247" stop-color="#00ffc8"/><stop offset="0.278" stop-color="#00ffc0"/><stop offset="0.309" stop-color="#00ffb5"/><stop offset="0.340" stop-color="#00ffa5"/><stop offset="0.371" stop-color="#46ff96"/><stop offset="0.402" stop-color="#7eff90"/><stop offset="0.433" stop-color="#a3ff89"/><stop offset="0.464" stop-color="#c1ff81"/><stop offset="0.495" stop-color="#dcff78"/><stop offset="0.526" stop-color="#f6ff6c"/><stop offset="0.557" stop-color="#fff057"/><stop offset="0.588" stop-color="#ffdd3d"/><stop offset="0.619" stop-color="#ffcc19"/><stop offset="0.649" stop-color="#ffbf00"/><stop offset="0.680" stop-color="#ffb500"/><stop offset="0.711" stop-color="#ffac00"/><stop offset="0.742" stop-color="#ffa400"/><stop offset="0.773" stop-color="#ff9e00"/><stop offset="0.804" stop-color="#ff9800"/><stop offset="0.835" stop-color="#ff9300"/><stop offset="0.866" stop-color="#ff8e00"/><stop offset="0.897" stop-color="#ff8a00"/><stop offset="0.928" stop-color="#ff8600"/><stop offset="0.959" stop-color="#ff8200"/><stop offset="0.990" stop-color="#ff7f00"/><stop offset="1.000" stop-color="#ff7c00"/></linearGradient><linearGradient id="g32" gradientUnits="userSpaceOnUse" x1="338" y1="0" x2="532" y2="0"><stop offset="0.000" stop-color="#00ffe5"/><stop offset="0.031" stop-color="#00ffe4"/><stop offset="0.062" stop-color="#00ffe2"/><stop offset="0.093" stop-color="#00ffdf"/><stop offset="0.124" stop-color="#00ffdd"/><stop offset="0.155" stop-color="#00ffda"/><stop offset="0.186" stop-color="#00ffd6"/><stop offset="0.216" stop-color="#00ffd1"/><stop offset="0.247" stop-color="#00ffcb"/><stop offset="0.278" stop-color="#00ffc4"/><stop offset="0.309" stop-color="#00ffb9"/><stop offset="0.340" stop-color="#00ffaa"/><stop offset="0.371" stop-color="#52ff9e"/><stop offset="0.402" stop-color="#86ff99"/><stop offset="0.433" stop-color="#aaff92"/><stop offset="0.464" stop-color="#c8ff8b"/><stop offset="0.495" stop-color="#e4ff83"/><stop offset="0.526" stop-color="#feff78"/><stop offset="0.557" stop-color="#ffe962"/><stop offset="0.588" stop-color="#ffd64b"/><stop offset="0.619" stop-color="#ffc631"/><stop offset="0.649" stop-color="#ffb800"/><stop offset="0.680" stop-color="#ffae00"/><stop offset="0.711" stop-color="#ffa500"/><stop offset="0.742" stop-color="#ff9e00"/><stop offset="0.773" stop-color="#ff9700"/><stop offset="0.804" stop-color="#ff9200"/><stop offset="0.835" stop-color="#ff8d00"/><stop offset="0.866" stop-color="#ff8800"/><stop offset="0.897" stop-color="#ff8400"/><stop offset="0.928" stop-color="#ff8000"/><stop offset="0.959" stop-color="#ff7d00"/><stop offset="0.990" stop-color="#ff7a00"/><stop offset="1.000" stop-color="#ff7700"/></linearGradient><linearGradient id="g33" gradientUnits="userSpaceOnUse" x1="338" y1="0" x2="532" y2="0"><stop offset="0.000" stop-color="#00ffe7"/><stop offset="0.031" stop-color="#00ffe6"/><stop offset="0.062" stop-color="#00ffe4"/><stop offset="0.093" stop-color="#00ffe2"/><stop offset="0.124" stop-color="#00ffdf"/><stop offset="0.155" stop-color="#00ffdc"/><stop offset="0.186" stop-color="#00ffd9"/><stop offset="0.216" stop-color="#00ffd5"/><stop offset="0.247" stop-color="#00ffcf"/><stop offset="0.278" stop-color="#00ffc8"/><stop offset="0.309" stop-color="#00ffbe"/><stop offset="0.340" stop-color="#00ffaf"/><stop offset="0.371" stop-color="#5dffa6"/><stop offset="0.402" stop-color="#8effa1"/><stop offset="0.433" stop-color="#b1ff9b"/><stop offset="0.464" stop-color="#d0ff95"/><stop offset="0.495" stop-color="#ecff8d"/><stop offset="0.526" stop-color="#fff880"/><stop offset="0.557" stop-color="#ffe26a"/><stop offset="0.588" stop-color="#ffcf55"/><stop offset="0.619" stop-color="#ffc040"/><stop offset="0.649" stop-color="#ffb224"/><stop offset="0.680" stop-color="#ffa600"/><stop offset="0.711" stop-color="#ff9e00"/><stop offset="0.742" stop-color="#ff9700"/><stop offset="0.773" stop-color="#ff9100"/><stop offset="0.804" stop-color="#ff8b00"/><stop offset="0.835" stop-color="#ff8600"/><stop offset="0.866" stop-color="#ff8200"/><stop offset="0.897" stop-color="#ff7e00"/><stop offset="0.928" stop-color="#ff7b00"/><stop offset="0.959" stop-color="#ff7700"/><stop offset="0.990" stop-color="#ff7400"/><stop offset="1.000" stop-color="#ff7100"/></linearGradient><linearGradient id="g34" gradientUnits="userSpaceOnUse" x1="338" y1="0" x2="532" y2="0"><stop offset="0.000" stop-color="#00ffea"/><stop offset="0.031" stop-color="#00ffe8"/><stop offset="0.062" stop-color="#00ffe6"/><stop offset="0.093" stop-color="#00ffe5"/><stop offset="0.124" stop-color="#00ffe2"/><stop offset="0.155" stop-color="#00ffe0"/><stop offset="0.186" stop-color="#00ffdc"/><stop offset="0.216" stop-color="#00ffd8"/><stop offset="0.247" stop-color="#00ffd3"/><stop offset="0.278" stop-color="#00ffcc"/><stop offset="0.309" stop-color="#00ffc2"/><stop offset="0.340" stop-color="#00ffb4"/><stop offset="0.371" stop-color="#68ffae"/><stop offset="0.402" stop-color="#96ffaa"/><stop offset="0.433" stop-color="#b9ffa5"/><stop offset="0.464" stop-color="#d8ff9f"/><stop offset="0.495" stop-color="#f4ff98"/><stop offset="0.526" stop-color="#fff087"/><stop offset="0.557" stop-color="#ffdb72"/><stop offset="0.588" stop-color="#ffc95e"/><stop offset="0.619" stop-color="#ffb94b"/><stop offset="0.649" stop-color="#ffac35"/><stop offset="0.680" stop-color="#ff9f16"/><stop offset="0.711" stop-color="#ff9600"/><stop offset="0.742" stop-color="#ff9000"/><stop offset="0.773" stop-color="#ff8a00"/><stop offset="0.804" stop-color="#ff8400"/><stop offset="0.835" stop-color="#ff8000"/><stop offset="0.866" stop-color="#ff7c00"/><stop offset="0.897" stop-color="#ff7800"/><stop offset="0.928" stop-color="#ff7400"/><stop offset="0.959" stop-color="#ff7100"/><stop offset="0.990" stop-color="#ff6e00"/><stop offset="1.000" stop-color="#ff6b00"/></linearGradient><linearGradient id="g35" gradientUnits="userSpaceOnUse" x1="338" y1="0" x2="532" y2="0"><stop offset="0.000" stop-color="#00ffec"/><stop offset="0.031" stop-color="#00ffeb"/><stop offset="0.062" stop-color="#00ffe9"/><stop offset="0.093" stop-color="#00ffe7"/><stop offset="0.124" stop-color="#00ffe5"/><stop offset="0.155" stop-color="#00ffe3"/><stop offset="0.186" stop-color="#00ffe0"/><stop offset="0.216" stop-color="#00ffdc"/><stop offset="0.247" stop-color="#00ffd7"/><stop offset="0.278" stop-color="#00ffd0"/><stop offset="0.309" stop-color="#00ffc7"/><stop offset="0.340" stop-color="#12ffbb"/><stop offset="0.371" stop-color="#72ffb7"/><stop offset="0.402" stop-color="#9effb3"/><stop offset="0.433" stop-color="#c1ffae"/><stop offset="0.464" stop-color="#e0ffa9"/><stop offset="0.495" stop-color="#fdffa2"/><stop offset="0.526" stop-color="#ffe88d"/><stop offset="0.557" stop-color="#ffd379"/><stop offset="0.588" stop-color="#ffc266"/><stop offset="0.619" stop-color="#ffb354"/><stop offset="0.649" stop-color="#ffa541"/><stop offset="0.680" stop-color="#ff992b"/><stop offset="0.711" stop-color="#ff8e00"/><stop offset="0.742" stop-color="#ff8800"/><stop offset="0.773" stop-color="#ff8200"/><stop offset="0.804" stop-color="#ff7d00"/><stop offset="0.835" stop-color="#ff7900"/><stop offset="0.866" stop-color="#ff7500"/><stop offset="0.897" stop-color="#ff7100"/><stop offset="0.928" stop-color="#ff6e00"/><stop offset="0.959" stop-color="#ff6b00"/><stop offset="0.990" stop-color="#ff6800"/><stop offset="1.000" stop-color="#ff6500"/></linearGradient><linearGradient id="g36" gradientUnits="userSpaceOnUse" x1="338" y1="0" x2="532" y2="0"><stop offset="0.000" stop-color="#00ffee"/><stop offset="0.031" stop-color="#00ffed"/><stop offset="0.062" stop-color="#00ffec"/><stop offset="0.093" stop-color="#00ffea"/><stop offset="0.124" stop-color="#00ffe8"/><stop offset="0.155" stop-color="#00ffe6"/><stop offset="0.186" stop-color="#00ffe3"/><stop offset="0.216" stop-color="#00ffe0"/><stop offset="0.247" stop-color="#00ffdb"/><stop offset="0.278" stop-color="#00ffd5"/><stop offset="0.309" stop-color="#00ffcd"/><stop offset="0.340" stop-color="#30ffc3"/><stop offset="0.371" stop-color="#7bffbf"/><stop offset="0.402" stop-color="#a7ffbc"/><stop offset="0.433" stop-color="#c9ffb8"/><stop offset="0.464" stop-color="#e9ffb3"/><stop offset="0.495" stop-color="#fff8a9"/><stop offset="0.526" stop-color="#ffe092"/><stop offset="0.557" stop-color="#ffcc7f"/><stop offset="0.588" stop-color="#ffbb6d"/><stop offset="0.619" stop-color="#ffac5c"/><stop offset="0.649" stop-color="#ff9f4b"/><stop offset="0.680" stop-color="#ff9338"/><stop offset="0.711" stop-color="#ff8820"/><stop offset="0.742" stop-color="#ff7f00"/><stop offset="0.773" stop-color="#ff7a00"/><stop offset="0.804" stop-color="#ff7500"/><stop offset="0.835" stop-color="#ff7100"/><stop offset="0.866" stop-color="#ff6d00"/><stop offset="0.897" stop-color="#ff6a00"/><stop offset="0.928" stop-color="#ff6600"/><stop offset="0.959" stop-color="#ff6400"/><stop offset="0.990" stop-color="#ff6100"/><stop offset="1.000" stop-color="#ff5f00"/></linearGradient><linearGradient id="g37" gradientUnits="userSpaceOnUse" x1="338" y1="0" x2="532" y2="0"><stop offset="0.000" stop-color="#00fff1"/><stop offset="0.031" stop-color="#00fff0"/><stop offset="0.062" stop-color="#00ffee"/><stop offset="0.093" stop-color="#00ffed"/><stop offset="0.124" stop-color="#00ffeb"/><stop offset="0.155" stop-color="#00ffe9"/><stop offset="0.186" stop-color="#00ffe7"/><stop offset="0.216" stop-color="#00ffe4"/><stop offset="0.247" stop-color="#00ffe0"/><stop offset="0.278" stop-color="#00ffdb"/><stop offset="0.309" stop-color="#00ffd3"/><stop offset="0.340" stop-color="#43ffcb"/><stop offset="0.371" stop-color="#85ffc8"/><stop offset="0.402" stop-color="#afffc5"/><stop offset="0.433" stop-color="#d2ffc1"/><stop offset="0.464" stop-color="#f2ffbd"/><stop offset="0.495" stop-color="#ffefad"/><stop offset="0.526" stop-color="#ffd897"/><stop offset="0.557" stop-color="#ffc584"/><stop offset="0.588" stop-color="#ffb473"/><stop offset="0.619" stop-color="#ffa663"/><stop offset="0.649" stop-color="#ff9953"/><stop offset="0.680" stop-color="#ff8d42"/><stop offset="0.711" stop-color="#ff822f"/><stop offset="0.742" stop-color="#ff7713"/><stop offset="0.773" stop-color="#ff7100"/><stop offset="0.804" stop-color="#ff6c00"/><stop offset="0.835" stop-color="#ff6800"/><stop offset="0.866" stop-color="#ff6500"/><stop offset="0.897" stop-color="#ff6100"/><stop offset="0.928" stop-color="#ff5f00"/><stop offset="0.959" stop-color="#ff5c00"/><stop offset="0.990" stop-color="#ff5900"/><stop offset="1.000" stop-color="#ff5700"/></linearGradient><linearGradient id="g38" gradientUnits="userSpaceOnUse" x1="338" y1="0" x2="532" y2="0"><stop offset="0.000" stop-color="#00fff3"/><stop offset="0.031" stop-color="#00fff2"/><stop offset="0.062" stop-color="#00fff1"/><stop offset="0.093" stop-color="#00fff0"/><stop offset="0.124" stop-color="#00ffef"/><stop offset="0.155" stop-color="#00ffed"/><stop offset="0.186" stop-color="#00ffeb"/><stop offset="0.216" stop-color="#00ffe8"/><stop offset="0.247" stop-color="#00ffe5"/><stop offset="0.278" stop-color="#00ffe0"/><stop offset="0.309" stop-color="#00ffd9"/><stop offset="0.340" stop-color="#52ffd4"/><stop offset="0.371" stop-color="#8effd1"/><stop offset="0.402" stop-color="#b8ffce"/><stop offset="0.433" stop-color="#dbffcb"/><stop offset="0.464" stop-color="#fbffc8"/><stop offset="0.495" stop-color="#ffe7b1"/><stop offset="0.526" stop-color="#ffd09c"/><stop offset="0.557" stop-color="#ffbd89"/><stop offset="0.588" stop-color="#ffad78"/><stop offset="0.619" stop-color="#ff9f69"/><stop offset="0.649" stop-color="#ff925a"/><stop offset="0.680" stop-color="#ff864b"/><stop offset="0.711" stop-color="#ff7b3a"/><stop offset="0.742" stop-color="#ff7026"/><stop offset="0.773" stop-color="#ff6600"/><stop offset="0.804" stop-color="#ff6200"/><stop offset="0.835" stop-color="#ff5f00"/><stop offset="0.866" stop-color="#ff5b00"/><stop offset="0.897" stop-color="#ff5800"/><stop offset="0.928" stop-color="#ff5600"/><stop offset="0.959" stop-color="#ff5300"/><stop offset="0.990" stop-color="#ff5100"/><stop offset="1.000" stop-color="#ff4f00"/></linearGradient><linearGradient id="g39" gradientUnits="userSpaceOnUse" x1="338" y1="0" x2="532" y2="0"><stop offset="0.000" stop-color="#00fff5"/><stop offset="0.031" stop-color="#00fff5"/><stop offset="0.062" stop-color="#00fff4"/><stop offset="0.093" stop-color="#00fff3"/><stop offset="0.124" stop-color="#00fff2"/><stop offset="0.155" stop-color="#00fff1"/><stop offset="0.186" stop-color="#00ffef"/><stop offset="0.216" stop-color="#00ffed"/><stop offset="0.247" stop-color="#00ffea"/><stop offset="0.278" stop-color="#00ffe6"/><stop offset="0.309" stop-color="#00ffe0"/><stop offset="0.340" stop-color="#5fffdd"/><stop offset="0.371" stop-color="#98ffdb"/><stop offset="0.402" stop-color="#c1ffd8"/><stop offset="0.433" stop-color="#e5ffd6"/><stop offset="0.464" stop-color="#fff9ce"/><stop offset="0.495" stop-color="#ffdeb5"/><stop offset="0.526" stop-color="#ffc8a0"/><stop offset="0.557" stop-color="#ffb68e"/><stop offset="0.588" stop-color="#ffa67d"/><stop offset="0.619" stop-color="#ff986e"/><stop offset="0.649" stop-color="#ff8b60"/><stop offset="0.680" stop-color="#ff7f52"/><stop offset="0.711" stop-color="#ff7443"/><stop offset="0.742" stop-color="#ff6933"/><stop offset="0.773" stop-color="#ff5f1d"/><stop offset="0.804" stop-color="#ff5700"/><stop offset="0.835" stop-color="#ff5400"/><stop offset="0.866" stop-color="#ff5100"/><stop offset="0.897" stop-color="#ff4e00"/><stop offset="0.928" stop-color="#ff4c00"/><stop offset="0.959" stop-color="#ff4900"/><stop offset="0.990" stop-color="#ff4700"/><stop offset="1.000" stop-color="#ff4500"/></linearGradient><linearGradient id="g40" gradientUnits="userSpaceOnUse" x1="338" y1="0" x2="532" y2="0"><stop offset="0.000" stop-color="#00fff8"/><stop offset="0.031" stop-color="#00fff8"/><stop offset="0.062" stop-color="#00fff7"/><stop offset="0.093" stop-color="#00fff6"/><stop offset="0.124" stop-color="#00fff5"/><stop offset="0.155" stop-color="#00fff4"/><stop offset="0.186" stop-color="#00fff3"/><stop offset="0.216" stop-color="#00fff2"/><stop offset="0.247" stop-color="#00ffef"/><stop offset="0.278" stop-color="#00ffec"/><stop offset="0.309" stop-color="#00ffe8"/><stop offset="0.340" stop-color="#6cffe6"/><stop offset="0.371" stop-color="#a2ffe4"/><stop offset="0.402" stop-color="#cbffe3"/><stop offset="0.433" stop-color="#efffe1"/><stop offset="0.464" stop-color="#ffefd1"/><stop offset="0.495" stop-color="#ffd5b8"/><stop offset="0.526" stop-color="#ffc0a3"/><stop offset="0.557" stop-color="#ffae92"/><stop offset="0.588" stop-color="#ff9f82"/><stop offset="0.619" stop-color="#ff9174"/><stop offset="0.649" stop-color="#ff8466"/><stop offset="0.680" stop-color="#ff7858"/><stop offset="0.711" stop-color="#ff6d4b"/><stop offset="0.742" stop-color="#ff623c"/><stop offset="0.773" stop-color="#ff572b"/><stop offset="0.804" stop-color="#ff4c11"/><stop offset="0.835" stop-color="#ff4600"/><stop offset="0.866" stop-color="#ff4400"/><stop offset="0.897" stop-color="#ff4200"/><stop offset="0.928" stop-color="#ff3f00"/><stop offset="0.959" stop-color="#ff3d00"/><stop offset="0.990" stop-color="#ff3c00"/><stop offset="1.000" stop-color="#ff3a00"/></linearGradient><linearGradient id="g41" gradientUnits="userSpaceOnUse" x1="338" y1="0" x2="532" y2="0"><stop offset="0.000" stop-color="#00fffb"/><stop offset="0.031" stop-color="#00fffa"/><stop offset="0.062" stop-color="#00fffa"/><stop offset="0.093" stop-color="#00fffa"/><stop offset="0.124" stop-color="#00fff9"/><stop offset="0.155" stop-color="#00fff8"/><stop offset="0.186" stop-color="#00fff8"/><stop offset="0.216" stop-color="#00fff7"/><stop offset="0.247" stop-color="#00fff5"/><stop offset="0.278" stop-color="#00fff3"/><stop offset="0.309" stop-color="#00fff1"/><stop offset="0.340" stop-color="#78fff0"/><stop offset="0.371" stop-color="#acffef"/><stop offset="0.402" stop-color="#d5ffee"/><stop offset="0.433" stop-color="#f9ffed"/><stop offset="0.464" stop-color="#ffe5d3"/><stop offset="0.495" stop-color="#ffccbb"/><stop offset="0.526" stop-color="#ffb8a7"/><stop offset="0.557" stop-color="#ffa796"/><stop offset="0.588" stop-color="#ff9786"/><stop offset="0.619" stop-color="#ff8a78"/><stop offset="0.649" stop-color="#ff7d6b"/><stop offset="0.680" stop-color="#ff715e"/><stop offset="0.711" stop-color="#ff6551"/><stop offset="0.742" stop-color="#ff5a44"/><stop offset="0.773" stop-color="#ff4f35"/><stop offset="0.804" stop-color="#ff4323"/><stop offset="0.835" stop-color="#ff3600"/><stop offset="0.866" stop-color="#ff3300"/><stop offset="0.897" stop-color="#ff3200"/><stop offset="0.928" stop-color="#ff3000"/><stop offset="0.959" stop-color="#ff2e00"/><stop offset="0.990" stop-color="#ff2d00"/><stop offset="1.000" stop-color="#ff2b00"/></linearGradient><linearGradient id="g42" gradientUnits="userSpaceOnUse" x1="338" y1="0" x2="532" y2="0"><stop offset="0.000" stop-color="#00fffd"/><stop offset="0.031" stop-color="#00fffd"/><stop offset="0.062" stop-color="#00fffd"/><stop offset="0.093" stop-color="#00fffd"/><stop offset="0.124" stop-color="#00fffd"/><stop offset="0.155" stop-color="#00fffd"/><stop offset="0.186" stop-color="#00fffc"/><stop offset="0.216" stop-color="#00fffc"/><stop offset="0.247" stop-color="#00fffc"/><stop offset="0.278" stop-color="#00fffb"/><stop offset="0.309" stop-color="#20fffa"/><stop offset="0.340" stop-color="#84fffa"/><stop offset="0.371" stop-color="#b6fffa"/><stop offset="0.402" stop-color="#e0fff9"/><stop offset="0.433" stop-color="#fff9f3"/><stop offset="0.464" stop-color="#ffdbd5"/><stop offset="0.495" stop-color="#ffc3be"/><stop offset="0.526" stop-color="#ffb0aa"/><stop offset="0.557" stop-color="#ff9f99"/><stop offset="0.588" stop-color="#ff908a"/><stop offset="0.619" stop-color="#ff827d"/><stop offset="0.649" stop-color="#ff7570"/><stop offset="0.680" stop-color="#ff6963"/><stop offset="0.711" stop-color="#ff5d57"/><stop offset="0.742" stop-color="#ff514b"/><stop offset="0.773" stop-color="#ff453d"/><stop offset="0.804" stop-color="#ff372e"/><stop offset="0.835" stop-color="#ff271a"/><stop offset="0.866" stop-color="#ff1900"/><stop offset="0.897" stop-color="#ff1700"/><stop offset="0.928" stop-color="#ff1600"/><stop offset="0.959" stop-color="#ff1500"/><stop offset="0.990" stop-color="#ff1400"/><stop offset="1.000" stop-color="#ff1300"/></linearGradient><linearGradient id="g43" gradientUnits="userSpaceOnUse" x1="338" y1="0" x2="532" y2="0"><stop offset="0.000" stop-color="#00feff"/><stop offset="0.031" stop-color="#00feff"/><stop offset="0.062" stop-color="#00fdff"/><stop offset="0.093" stop-color="#00fdff"/><stop offset="0.124" stop-color="#00fdff"/><stop offset="0.155" stop-color="#00fdff"/><stop offset="0.186" stop-color="#00fdff"/><stop offset="0.216" stop-color="#00fcff"/><stop offset="0.247" stop-color="#00fcff"/><stop offset="0.278" stop-color="#00fbff"/><stop offset="0.309" stop-color="#3cfaff"/><stop offset="0.340" stop-color="#8cf9ff"/><stop offset="0.371" stop-color="#bdf9ff"/><stop offset="0.402" stop-color="#e5f9ff"/><stop offset="0.433" stop-color="#ffeef5"/><stop offset="0.464" stop-color="#ffd1d8"/><stop offset="0.495" stop-color="#ffbac1"/><stop offset="0.526" stop-color="#ffa7ad"/><stop offset="0.557" stop-color="#ff969d"/><stop offset="0.588" stop-color="#ff888e"/><stop offset="0.619" stop-color="#ff7a81"/><stop offset="0.649" stop-color="#ff6d74"/><stop offset="0.680" stop-color="#ff6068"/><stop offset="0.711" stop-color="#ff545c"/><stop offset="0.742" stop-color="#ff4751"/><stop offset="0.773" stop-color="#ff3944"/><stop offset="0.804" stop-color="#ff2937"/><stop offset="0.835" stop-color="#ff1027"/><stop offset="0.866" stop-color="#ff0020"/><stop offset="0.897" stop-color="#ff001f"/><stop offset="0.928" stop-color="#ff001e"/><stop offset="0.959" stop-color="#ff001d"/><stop offset="0.990" stop-color="#ff001c"/><stop offset="1.000" stop-color="#ff001b"/></linearGradient><linearGradient id="g44" gradientUnits="userSpaceOnUse" x1="338" y1="0" x2="532" y2="0"><stop offset="0.000" stop-color="#00fbff"/><stop offset="0.031" stop-color="#00fbff"/><stop offset="0.062" stop-color="#00faff"/><stop offset="0.093" stop-color="#00faff"/><stop offset="0.124" stop-color="#00f9ff"/><stop offset="0.155" stop-color="#00f8ff"/><stop offset="0.186" stop-color="#00f7ff"/><stop offset="0.216" stop-color="#00f6ff"/><stop offset="0.247" stop-color="#00f5ff"/><stop offset="0.278" stop-color="#00f2ff"/><stop offset="0.309" stop-color="#4cf0ff"/><stop offset="0.340" stop-color="#91efff"/><stop offset="0.371" stop-color="#bfeeff"/><stop offset="0.402" stop-color="#e5edff"/><stop offset="0.433" stop-color="#ffe3f6"/><stop offset="0.464" stop-color="#ffc7da"/><stop offset="0.495" stop-color="#ffb1c3"/><stop offset="0.526" stop-color="#ff9eb0"/><stop offset="0.557" stop-color="#ff8ea0"/><stop offset="0.588" stop-color="#ff7f92"/><stop offset="0.619" stop-color="#ff7184"/><stop offset="0.649" stop-color="#ff6478"/><stop offset="0.680" stop-color="#ff576d"/><stop offset="0.711" stop-color="#ff4a61"/><stop offset="0.742" stop-color="#ff3c56"/><stop offset="0.773" stop-color="#ff2b4b"/><stop offset="0.804" stop-color="#ff123f"/><stop offset="0.835" stop-color="#ff0038"/><stop offset="0.866" stop-color="#ff0036"/><stop offset="0.897" stop-color="#ff0035"/><stop offset="0.928" stop-color="#ff0033"/><stop offset="0.959" stop-color="#ff0032"/><stop offset="0.990" stop-color="#ff0030"/><stop offset="1.000" stop-color="#ff002f"/></linearGradient><linearGradient id="g45" gradientUnits="userSpaceOnUse" x1="338" y1="0" x2="532" y2="0"><stop offset="0.000" stop-color="#00f8ff"/><stop offset="0.031" stop-color="#00f7ff"/><stop offset="0.062" stop-color="#00f7ff"/><stop offset="0.093" stop-color="#00f6ff"/><stop offset="0.124" stop-color="#00f5ff"/><stop offset="0.155" stop-color="#00f4ff"/><stop offset="0.186" stop-color="#00f2ff"/><stop offset="0.216" stop-color="#00f0ff"/><stop offset="0.247" stop-color="#00edff"/><stop offset="0.278" stop-color="#00e9ff"/><stop offset="0.309" stop-color="#58e6ff"/><stop offset="0.340" stop-color="#95e4ff"/><stop offset="0.371" stop-color="#c1e3ff"/><stop offset="0.402" stop-color="#e5e1ff"/><stop offset="0.433" stop-color="#ffd8f7"/><stop offset="0.464" stop-color="#ffbddc"/><stop offset="0.495" stop-color="#ffa8c6"/><stop offset="0.526" stop-color="#ff95b3"/><stop offset="0.557" stop-color="#ff85a3"/><stop offset="0.588" stop-color="#ff7695"/><stop offset="0.619" stop-color="#ff6888"/><stop offset="0.649" stop-color="#ff5b7c"/><stop offset="0.680" stop-color="#ff4d71"/><stop offset="0.711" stop-color="#ff3e66"/><stop offset="0.742" stop-color="#ff2d5b"/><stop offset="0.773" stop-color="#ff1550"/><stop offset="0.804" stop-color="#ff004a"/><stop offset="0.835" stop-color="#ff0047"/><stop offset="0.866" stop-color="#ff0045"/><stop offset="0.897" stop-color="#ff0043"/><stop offset="0.928" stop-color="#ff0041"/><stop offset="0.959" stop-color="#ff003f"/><stop offset="0.990" stop-color="#ff003e"/><stop offset="1.000" stop-color="#ff003c"/></linearGradient><linearGradient id="g46" gradientUnits="userSpaceOnUse" x1="338" y1="0" x2="532" y2="0"><stop offset="0.000" stop-color="#00f5ff"/><stop offset="0.031" stop-color="#00f4ff"/><stop offset="0.062" stop-color="#00f3ff"/><stop offset="0.093" stop-color="#00f2ff"/><stop offset="0.124" stop-color="#00f1ff"/><stop offset="0.155" stop-color="#00efff"/><stop offset="0.186" stop-color="#00edff"/><stop offset="0.216" stop-color="#00eaff"/><stop offset="0.247" stop-color="#00e6ff"/><stop offset="0.278" stop-color="#00e0ff"/><stop offset="0.309" stop-color="#62dcff"/><stop offset="0.340" stop-color="#99daff"/><stop offset="0.371" stop-color="#c2d8ff"/><stop offset="0.402" stop-color="#e6d5ff"/><stop offset="0.433" stop-color="#ffccf8"/><stop offset="0.464" stop-color="#ffb3dd"/><stop offset="0.495" stop-color="#ff9ec8"/><stop offset="0.526" stop-color="#ff8cb6"/><stop offset="0.557" stop-color="#ff7ca6"/><stop offset="0.588" stop-color="#ff6d98"/><stop offset="0.619" stop-color="#ff5e8b"/><stop offset="0.649" stop-color="#ff5080"/><stop offset="0.680" stop-color="#ff4175"/><stop offset="0.711" stop-color="#ff2f6a"/><stop offset="0.742" stop-color="#ff1760"/><stop offset="0.773" stop-color="#ff0059"/><stop offset="0.804" stop-color="#ff0056"/><stop offset="0.835" stop-color="#ff0053"/><stop offset="0.866" stop-color="#ff0050"/><stop offset="0.897" stop-color="#ff004e"/><stop offset="0.928" stop-color="#ff004c"/><stop offset="0.959" stop-color="#ff004a"/><stop offset="0.990" stop-color="#ff0048"/><stop offset="1.000" stop-color="#ff0046"/></linearGradient><linearGradient id="g47" gradientUnits="userSpaceOnUse" x1="338" y1="0" x2="532" y2="0"><stop offset="0.000" stop-color="#00f2ff"/><stop offset="0.031" stop-color="#00f1ff"/><stop offset="0.062" stop-color="#00f0ff"/><stop offset="0.093" stop-color="#00eeff"/><stop offset="0.124" stop-color="#00ecff"/><stop offset="0.155" stop-color="#00eaff"/><stop offset="0.186" stop-color="#00e7ff"/><stop offset="0.216" stop-color="#00e3ff"/><stop offset="0.247" stop-color="#00deff"/><stop offset="0.278" stop-color="#00d6ff"/><stop offset="0.309" stop-color="#6ad3ff"/><stop offset="0.340" stop-color="#9dd0ff"/><stop offset="0.371" stop-color="#c4cdff"/><stop offset="0.402" stop-color="#e6caff"/><stop offset="0.433" stop-color="#ffc1f9"/><stop offset="0.464" stop-color="#ffa9df"/><stop offset="0.495" stop-color="#ff94ca"/><stop offset="0.526" stop-color="#ff82b8"/><stop offset="0.557" stop-color="#ff72a9"/><stop offset="0.588" stop-color="#ff639b"/><stop offset="0.619" stop-color="#ff538f"/><stop offset="0.649" stop-color="#ff4483"/><stop offset="0.680" stop-color="#ff3278"/><stop offset="0.711" stop-color="#ff196e"/><stop offset="0.742" stop-color="#ff0067"/><stop offset="0.773" stop-color="#ff0063"/><stop offset="0.804" stop-color="#ff005f"/><stop offset="0.835" stop-color="#ff005c"/><stop offset="0.866" stop-color="#ff0059"/><stop offset="0.897" stop-color="#ff0057"/><stop offset="0.928" stop-color="#ff0055"/><stop offset="0.959" stop-color="#ff0052"/><stop offset="0.990" stop-color="#ff0050"/><stop offset="1.000" stop-color="#ff004e"/></linearGradient><linearGradient id="g48" gradientUnits="userSpaceOnUse" x1="338" y1="0" x2="532" y2="0"><stop offset="0.000" stop-color="#00efff"/><stop offset="0.031" stop-color="#00eeff"/><stop offset="0.062" stop-color="#00ecff"/><stop offset="0.093" stop-color="#00eaff"/><stop offset="0.124" stop-color="#00e8ff"/><stop offset="0.155" stop-color="#00e5ff"/><stop offset="0.186" stop-color="#00e2ff"/><stop offset="0.216" stop-color="#00ddff"/><stop offset="0.247" stop-color="#00d6ff"/><stop offset="0.278" stop-color="#00ccff"/><stop offset="0.309" stop-color="#71c9ff"/><stop offset="0.340" stop-color="#a0c6ff"/><stop offset="0.371" stop-color="#c5c2ff"/><stop offset="0.402" stop-color="#e6beff"/><stop offset="0.433" stop-color="#ffb6fa"/><stop offset="0.464" stop-color="#ff9ee1"/><stop offset="0.495" stop-color="#ff8acc"/><stop offset="0.526" stop-color="#ff78ba"/><stop offset="0.557" stop-color="#ff67ab"/><stop offset="0.588" stop-color="#ff579e"/><stop offset="0.619" stop-color="#ff4792"/><stop offset="0.649" stop-color="#ff3486"/><stop offset="0.680" stop-color="#ff1b7c"/><stop offset="0.711" stop-color="#ff0074"/><stop offset="0.742" stop-color="#ff006f"/><stop offset="0.773" stop-color="#ff006b"/><stop offset="0.804" stop-color="#ff0068"/><stop offset="0.835" stop-color="#ff0064"/><stop offset="0.866" stop-color="#ff0061"/><stop offset="0.897" stop-color="#ff005f"/><stop offset="0.928" stop-color="#ff005c"/><stop offset="0.959" stop-color="#ff005a"/><stop offset="0.990" stop-color="#ff0058"/><stop offset="1.000" stop-color="#ff0056"/></linearGradient><linearGradient id="g49" gradientUnits="userSpaceOnUse" x1="338" y1="0" x2="532" y2="0"><stop offset="0.000" stop-color="#00ecff"/><stop offset="0.031" stop-color="#00eaff"/><stop offset="0.062" stop-color="#00e9ff"/><stop offset="0.093" stop-color="#00e6ff"/><stop offset="0.124" stop-color="#00e4ff"/><stop offset="0.155" stop-color="#00e0ff"/><stop offset="0.186" stop-color="#00dcff"/><stop offset="0.216" stop-color="#00d6ff"/><stop offset="0.247" stop-color="#00ceff"/><stop offset="0.278" stop-color="#23c3ff"/><stop offset="0.309" stop-color="#77bfff"/><stop offset="0.340" stop-color="#a3bbff"/><stop offset="0.371" stop-color="#c7b7ff"/><stop offset="0.402" stop-color="#e6b2ff"/><stop offset="0.433" stop-color="#ffaafb"/><stop offset="0.464" stop-color="#ff93e2"/><stop offset="0.495" stop-color="#ff7fce"/><stop offset="0.526" stop-color="#ff6dbd"/><stop offset="0.557" stop-color="#ff5bae"/><stop offset="0.588" stop-color="#ff4aa0"/><stop offset="0.619" stop-color="#ff3794"/><stop offset="0.649" stop-color="#ff1d89"/><stop offset="0.680" stop-color="#ff0081"/><stop offset="0.711" stop-color="#ff007b"/><stop offset="0.742" stop-color="#ff0077"/><stop offset="0.773" stop-color="#ff0073"/><stop offset="0.804" stop-color="#ff006f"/><stop offset="0.835" stop-color="#ff006b"/><stop offset="0.866" stop-color="#ff0068"/><stop offset="0.897" stop-color="#ff0065"/><stop offset="0.928" stop-color="#ff0063"/><stop offset="0.959" stop-color="#ff0060"/><stop offset="0.990" stop-color="#ff005e"/><stop offset="1.000" stop-color="#ff005c"/></linearGradient><linearGradient id="g50" gradientUnits="userSpaceOnUse" x1="338" y1="0" x2="532" y2="0"><stop offset="0.000" stop-color="#00e9ff"/><stop offset="0.031" stop-color="#00e7ff"/><stop offset="0.062" stop-color="#00e5ff"/><stop offset="0.093" stop-color="#00e2ff"/><stop offset="0.124" stop-color="#00dfff"/><stop offset="0.155" stop-color="#00dbff"/><stop offset="0.186" stop-color="#00d6ff"/><stop offset="0.216" stop-color="#00cfff"/><stop offset="0.247" stop-color="#00c5ff"/><stop offset="0.278" stop-color="#38b9ff"/><stop offset="0.309" stop-color="#7cb6ff"/><stop offset="0.340" stop-color="#a6b1ff"/><stop offset="0.371" stop-color="#c8acff"/><stop offset="0.402" stop-color="#e6a6ff"/><stop offset="0.433" stop-color="#ff9efc"/><stop offset="0.464" stop-color="#ff87e3"/><stop offset="0.495" stop-color="#ff73d0"/><stop offset="0.526" stop-color="#ff60bf"/><stop offset="0.557" stop-color="#ff4eb0"/><stop offset="0.588" stop-color="#ff3aa3"/><stop offset="0.619" stop-color="#ff2097"/><stop offset="0.649" stop-color="#ff008e"/><stop offset="0.680" stop-color="#ff0087"/><stop offset="0.711" stop-color="#ff0082"/><stop offset="0.742" stop-color="#ff007d"/><stop offset="0.773" stop-color="#ff0079"/><stop offset="0.804" stop-color="#ff0075"/><stop offset="0.835" stop-color="#ff0072"/><stop offset="0.866" stop-color="#ff006e"/><stop offset="0.897" stop-color="#ff006b"/><stop offset="0.928" stop-color="#ff0069"/><stop offset="0.959" stop-color="#ff0066"/><stop offset="0.990" stop-color="#ff0064"/><stop offset="1.000" stop-color="#ff0062"/></linearGradient><linearGradient id="g51" gradientUnits="userSpaceOnUse" x1="338" y1="0" x2="532" y2="0"><stop offset="0.000" stop-color="#00e6ff"/><stop offset="0.031" stop-color="#00e4ff"/><stop offset="0.062" stop-color="#00e1ff"/><stop offset="0.093" stop-color="#00deff"/><stop offset="0.124" stop-color="#00daff"/><stop offset="0.155" stop-color="#00d6ff"/><stop offset="0.186" stop-color="#00d0ff"/><stop offset="0.216" stop-color="#00c7ff"/><stop offset="0.247" stop-color="#00bcff"/><stop offset="0.278" stop-color="#45b0ff"/><stop offset="0.309" stop-color="#81acff"/><stop offset="0.340" stop-color="#a9a7ff"/><stop offset="0.371" stop-color="#c9a1ff"/><stop offset="0.402" stop-color="#e69aff"/><stop offset="0.433" stop-color="#ff91fc"/><stop offset="0.464" stop-color="#ff7ae5"/><stop offset="0.495" stop-color="#ff66d1"/><stop offset="0.526" stop-color="#ff52c1"/><stop offset="0.557" stop-color="#ff3db2"/><stop offset="0.588" stop-color="#ff23a5"/><stop offset="0.619" stop-color="#ff009b"/><stop offset="0.649" stop-color="#ff0094"/><stop offset="0.680" stop-color="#ff008d"/><stop offset="0.711" stop-color="#ff0088"/><stop offset="0.742" stop-color="#ff0083"/><stop offset="0.773" stop-color="#ff007f"/><stop offset="0.804" stop-color="#ff007b"/><stop offset="0.835" stop-color="#ff0077"/><stop offset="0.866" stop-color="#ff0074"/><stop offset="0.897" stop-color="#ff0071"/><stop offset="0.928" stop-color="#ff006e"/><stop offset="0.959" stop-color="#ff006c"/><stop offset="0.990" stop-color="#ff0069"/><stop offset="1.000" stop-color="#ff0067"/></linearGradient><linearGradient id="g52" gradientUnits="userSpaceOnUse" x1="338" y1="0" x2="532" y2="0"><stop offset="0.000" stop-color="#00e3ff"/><stop offset="0.031" stop-color="#00e0ff"/><stop offset="0.062" stop-color="#00ddff"/><stop offset="0.093" stop-color="#00daff"/><stop offset="0.124" stop-color="#00d6ff"/><stop offset="0.155" stop-color="#00d0ff"/><stop offset="0.186" stop-color="#00c9ff"/><stop offset="0.216" stop-color="#00c0ff"/><stop offset="0.247" stop-color="#00b2ff"/><stop offset="0.278" stop-color="#50a7ff"/><stop offset="0.309" stop-color="#86a2ff"/><stop offset="0.340" stop-color="#ab9cff"/><stop offset="0.371" stop-color="#ca95ff"/><stop offset="0.402" stop-color="#e68dff"/><stop offset="0.433" stop-color="#ff83fd"/><stop offset="0.464" stop-color="#ff6de6"/><stop offset="0.495" stop-color="#ff57d3"/><stop offset="0.526" stop-color="#ff41c3"/><stop offset="0.557" stop-color="#ff26b4"/><stop offset="0.588" stop-color="#ff00a9"/><stop offset="0.619" stop-color="#ff00a0"/><stop offset="0.649" stop-color="#ff0099"/><stop offset="0.680" stop-color="#ff0093"/><stop offset="0.711" stop-color="#ff008d"/><stop offset="0.742" stop-color="#ff0088"/><stop offset="0.773" stop-color="#ff0084"/><stop offset="0.804" stop-color="#ff0080"/><stop offset="0.835" stop-color="#ff007c"/><stop offset="0.866" stop-color="#ff0079"/><stop offset="0.897" stop-color="#ff0076"/><stop offset="0.928" stop-color="#ff0073"/><stop offset="0.959" stop-color="#ff0070"/><stop offset="0.990" stop-color="#ff006e"/><stop offset="1.000" stop-color="#ff006c"/></linearGradient><linearGradient id="g53" gradientUnits="userSpaceOnUse" x1="338" y1="0" x2="532" y2="0"><stop offset="0.000" stop-color="#00dfff"/><stop offset="0.031" stop-color="#00ddff"/><stop offset="0.062" stop-color="#00d9ff"/><stop offset="0.093" stop-color="#00d5ff"/><stop offset="0.124" stop-color="#00d1ff"/><stop offset="0.155" stop-color="#00cbff"/><stop offset="0.186" stop-color="#00c3ff"/><stop offset="0.216" stop-color="#00b8ff"/><stop offset="0.247" stop-color="#00a7ff"/><stop offset="0.278" stop-color="#599dff"/><stop offset="0.309" stop-color="#8a97ff"/><stop offset="0.340" stop-color="#ad91ff"/><stop offset="0.371" stop-color="#cb89ff"/><stop offset="0.402" stop-color="#e780ff"/><stop offset="0.433" stop-color="#ff74fe"/><stop offset="0.464" stop-color="#ff5de7"/><stop offset="0.495" stop-color="#ff45d5"/><stop offset="0.526" stop-color="#ff29c4"/><stop offset="0.557" stop-color="#ff00b7"/><stop offset="0.588" stop-color="#ff00ad"/><stop offset="0.619" stop-color="#ff00a5"/><stop offset="0.649" stop-color="#ff009e"/><stop offset="0.680" stop-color="#ff0098"/><stop offset="0.711" stop-color="#ff0092"/><stop offset="0.742" stop-color="#ff008d"/><stop offset="0.773" stop-color="#ff0089"/><stop offset="0.804" stop-color="#ff0085"/><stop offset="0.835" stop-color="#ff0081"/><stop offset="0.866" stop-color="#ff007e"/><stop offset="0.897" stop-color="#ff007a"/><stop offset="0.928" stop-color="#ff0078"/><stop offset="0.959" stop-color="#ff0075"/><stop offset="0.990" stop-color="#ff0072"/><stop offset="1.000" stop-color="#ff0070"/></linearGradient><linearGradient id="g54" gradientUnits="userSpaceOnUse" x1="338" y1="0" x2="532" y2="0"><stop offset="0.000" stop-color="#00dcff"/><stop offset="0.031" stop-color="#00d9ff"/><stop offset="0.062" stop-color="#00d5ff"/><stop offset="0.093" stop-color="#00d1ff"/><stop offset="0.124" stop-color="#00ccff"/><stop offset="0.155" stop-color="#00c5ff"/><stop offset="0.186" stop-color="#00bcff"/><stop offset="0.216" stop-color="#00afff"/><stop offset="0.247" stop-color="#009cff"/><stop offset="0.278" stop-color="#6093ff"/><stop offset="0.309" stop-color="#8d8dff"/><stop offset="0.340" stop-color="#af85ff"/><stop offset="0.371" stop-color="#cc7cff"/><stop offset="0.402" stop-color="#e772ff"/><stop offset="0.433" stop-color="#ff64fe"/><stop offset="0.464" stop-color="#ff4ae8"/><stop offset="0.495" stop-color="#ff2dd6"/><stop offset="0.526" stop-color="#ff00c7"/><stop offset="0.557" stop-color="#ff00bb"/><stop offset="0.588" stop-color="#ff00b2"/><stop offset="0.619" stop-color="#ff00a9"/><stop offset="0.649" stop-color="#ff00a2"/><stop offset="0.680" stop-color="#ff009c"/><stop offset="0.711" stop-color="#ff0097"/><stop offset="0.742" stop-color="#ff0092"/><stop offset="0.773" stop-color="#ff008d"/><stop offset="0.804" stop-color="#ff0089"/><stop offset="0.835" stop-color="#ff0085"/><stop offset="0.866" stop-color="#ff0082"/><stop offset="0.897" stop-color="#ff007f"/><stop offset="0.928" stop-color="#ff007c"/><stop offset="0.959" stop-color="#ff0079"/><stop offset="0.990" stop-color="#ff0076"/><stop offset="1.000" stop-color="#ff0074"/></linearGradient><linearGradient id="g55" gradientUnits="userSpaceOnUse" x1="338" y1="0" x2="532" y2="0"><stop offset="0.000" stop-color="#00d9ff"/><stop offset="0.031" stop-color="#00d5ff"/><stop offset="0.062" stop-color="#00d1ff"/><stop offset="0.093" stop-color="#00cdff"/><stop offset="0.124" stop-color="#00c6ff"/><stop offset="0.155" stop-color="#00bfff"/><stop offset="0.186" stop-color="#00b5ff"/><stop offset="0.216" stop-color="#00a6ff"/><stop offset="0.247" stop-color="#0090ff"/><stop offset="0.278" stop-color="#6789ff"/><stop offset="0.309" stop-color="#9182ff"/><stop offset="0.340" stop-color="#b179ff"/><stop offset="0.371" stop-color="#cd6eff"/><stop offset="0.402" stop-color="#e761ff"/><stop offset="0.433" stop-color="#ff50ff"/><stop offset="0.464" stop-color="#ff31e9"/><stop offset="0.495" stop-color="#ff00d8"/><stop offset="0.526" stop-color="#ff00ca"/><stop offset="0.557" stop-color="#ff00bf"/><stop offset="0.588" stop-color="#ff00b6"/><stop offset="0.619" stop-color="#ff00ad"/><stop offset="0.649" stop-color="#ff00a6"/><stop offset="0.680" stop-color="#ff00a0"/><stop offset="0.711" stop-color="#ff009b"/><stop offset="0.742" stop-color="#ff0096"/><stop offset="0.773" stop-color="#ff0091"/><stop offset="0.804" stop-color="#ff008d"/><stop offset="0.835" stop-color="#ff0089"/><stop offset="0.866" stop-color="#ff0086"/><stop offset="0.897" stop-color="#ff0083"/><stop offset="0.928" stop-color="#ff0080"/><stop offset="0.959" stop-color="#ff007d"/><stop offset="0.990" stop-color="#ff007a"/><stop offset="1.000" stop-color="#ff0078"/></linearGradient><linearGradient id="g56" gradientUnits="userSpaceOnUse" x1="338" y1="0" x2="532" y2="0"><stop offset="0.000" stop-color="#00d5ff"/><stop offset="0.031" stop-color="#00d2ff"/><stop offset="0.062" stop-color="#00cdff"/><stop offset="0.093" stop-color="#00c8ff"/><stop offset="0.124" stop-color="#00c1ff"/><stop offset="0.155" stop-color="#00b9ff"/><stop offset="0.186" stop-color="#00adff"/><stop offset="0.216" stop-color="#009cff"/><stop offset="0.247" stop-color="#2486ff"/><stop offset="0.278" stop-color="#6c7eff"/><stop offset="0.309" stop-color="#9476ff"/><stop offset="0.340" stop-color="#b36bff"/><stop offset="0.371" stop-color="#ce5fff"/><stop offset="0.402" stop-color="#e74eff"/><stop offset="0.433" stop-color="#fe35ff"/><stop offset="0.464" stop-color="#ff00eb"/><stop offset="0.495" stop-color="#ff00da"/><stop offset="0.526" stop-color="#ff00cd"/><stop offset="0.557" stop-color="#ff00c2"/><stop offset="0.588" stop-color="#ff00b9"/><stop offset="0.619" stop-color="#ff00b1"/><stop offset="0.649" stop-color="#ff00aa"/><stop offset="0.680" stop-color="#ff00a4"/><stop offset="0.711" stop-color="#ff009e"/><stop offset="0.742" stop-color="#ff0099"/><stop offset="0.773" stop-color="#ff0095"/><stop offset="0.804" stop-color="#ff0091"/><stop offset="0.835" stop-color="#ff008d"/><stop offset="0.866" stop-color="#ff008a"/><stop offset="0.897" stop-color="#ff0086"/><stop offset="0.928" stop-color="#ff0083"/><stop offset="0.959" stop-color="#ff0080"/><stop offset="0.990" stop-color="#ff007e"/><stop offset="1.000" stop-color="#ff007b"/></linearGradient><linearGradient id="g57" gradientUnits="userSpaceOnUse" x1="338" y1="0" x2="532" y2="0"><stop offset="0.000" stop-color="#00d2ff"/><stop offset="0.031" stop-color="#00ceff"/><stop offset="0.062" stop-color="#00c9ff"/><stop offset="0.093" stop-color="#00c3ff"/><stop offset="0.124" stop-color="#00bcff"/><stop offset="0.155" stop-color="#00b2ff"/><stop offset="0.186" stop-color="#00a5ff"/><stop offset="0.216" stop-color="#0092ff"/><stop offset="0.247" stop-color="#357bff"/><stop offset="0.278" stop-color="#7273ff"/><stop offset="0.309" stop-color="#9769ff"/><stop offset="0.340" stop-color="#b55cff"/><stop offset="0.371" stop-color="#cf4cff"/><stop offset="0.402" stop-color="#e735ff"/><stop offset="0.433" stop-color="#fe00ff"/><stop offset="0.464" stop-color="#ff00ec"/><stop offset="0.495" stop-color="#ff00dd"/><stop offset="0.526" stop-color="#ff00d0"/><stop offset="0.557" stop-color="#ff00c5"/><stop offset="0.588" stop-color="#ff00bc"/><stop offset="0.619" stop-color="#ff00b4"/><stop offset="0.649" stop-color="#ff00ae"/><stop offset="0.680" stop-color="#ff00a7"/><stop offset="0.711" stop-color="#ff00a2"/><stop offset="0.742" stop-color="#ff009d"/><stop offset="0.773" stop-color="#ff0098"/><stop offset="0.804" stop-color="#ff0094"/><stop offset="0.835" stop-color="#ff0090"/><stop offset="0.866" stop-color="#ff008d"/><stop offset="0.897" stop-color="#ff008a"/><stop offset="0.928" stop-color="#ff0087"/><stop offset="0.959" stop-color="#ff0084"/><stop offset="0.990" stop-color="#ff0081"/><stop offset="1.000" stop-color="#ff007f"/></linearGradient><linearGradient id="g58" gradientUnits="userSpaceOnUse" x1="338" y1="0" x2="532" y2="0"><stop offset="0.000" stop-color="#00ceff"/><stop offset="0.031" stop-color="#00caff"/><stop offset="0.062" stop-color="#00c5ff"/><stop offset="0.093" stop-color="#00beff"/><stop offset="0.124" stop-color="#00b6ff"/><stop offset="0.155" stop-color="#00abff"/><stop offset="0.186" stop-color="#009dff"/><stop offset="0.216" stop-color="#0087ff"/><stop offset="0.247" stop-color="#4170ff"/><stop offset="0.278" stop-color="#7666ff"/><stop offset="0.309" stop-color="#995aff"/><stop offset="0.340" stop-color="#b64bff"/><stop offset="0.371" stop-color="#d034ff"/><stop offset="0.402" stop-color="#e700ff"/><stop offset="0.433" stop-color="#fd00ff"/><stop offset="0.464" stop-color="#ff00ee"/><stop offset="0.495" stop-color="#ff00df"/><stop offset="0.526" stop-color="#ff00d2"/><stop offset="0.557" stop-color="#ff00c8"/><stop offset="0.588" stop-color="#ff00bf"/><stop offset="0.619" stop-color="#ff00b7"/><stop offset="0.649" stop-color="#ff00b1"/><stop offset="0.680" stop-color="#ff00ab"/><stop offset="0.711" stop-color="#ff00a5"/><stop offset="0.742" stop-color="#ff00a0"/><stop offset="0.773" stop-color="#ff009c"/><stop offset="0.804" stop-color="#ff0098"/><stop offset="0.835" stop-color="#ff0094"/><stop offset="0.866" stop-color="#ff0090"/><stop offset="0.897" stop-color="#ff008d"/><stop offset="0.928" stop-color="#ff008a"/><stop offset="0.959" stop-color="#ff0087"/><stop offset="0.990" stop-color="#ff0084"/><stop offset="1.000" stop-color="#ff0082"/></linearGradient><linearGradient id="g59" gradientUnits="userSpaceOnUse" x1="338" y1="0" x2="532" y2="0"><stop offset="0.000" stop-color="#00cbff"/><stop offset="0.031" stop-color="#00c6ff"/><stop offset="0.062" stop-color="#00c0ff"/><stop offset="0.093" stop-color="#00b9ff"/><stop offset="0.124" stop-color="#00b0ff"/><stop offset="0.155" stop-color="#00a4ff"/><stop offset="0.186" stop-color="#0094ff"/><stop offset="0.216" stop-color="#007aff"/><stop offset="0.247" stop-color="#4a64ff"/><stop offset="0.278" stop-color="#7a58ff"/><stop offset="0.309" stop-color="#9c49ff"/><stop offset="0.340" stop-color="#b833ff"/><stop offset="0.371" stop-color="#d000ff"/><stop offset="0.402" stop-color="#e800ff"/><stop offset="0.433" stop-color="#fd00ff"/><stop offset="0.464" stop-color="#ff00ef"/><stop offset="0.495" stop-color="#ff00e1"/><stop offset="0.526" stop-color="#ff00d5"/><stop offset="0.557" stop-color="#ff00cb"/><stop offset="0.588" stop-color="#ff00c2"/><stop offset="0.619" stop-color="#ff00ba"/><stop offset="0.649" stop-color="#ff00b4"/><stop offset="0.680" stop-color="#ff00ae"/><stop offset="0.711" stop-color="#ff00a8"/><stop offset="0.742" stop-color="#ff00a3"/><stop offset="0.773" stop-color="#ff009f"/><stop offset="0.804" stop-color="#ff009b"/><stop offset="0.835" stop-color="#ff0097"/><stop offset="0.866" stop-color="#ff0093"/><stop offset="0.897" stop-color="#ff0090"/><stop offset="0.928" stop-color="#ff008d"/><stop offset="0.959" stop-color="#ff008a"/><stop offset="0.990" stop-color="#ff0087"/><stop offset="1.000" stop-color="#ff0085"/></linearGradient><linearGradient id="g60" gradientUnits="userSpaceOnUse" x1="338" y1="0" x2="532" y2="0"><stop offset="0.000" stop-color="#00c7ff"/><stop offset="0.031" stop-color="#00c2ff"/><stop offset="0.062" stop-color="#00bcff"/><stop offset="0.093" stop-color="#00b4ff"/><stop offset="0.124" stop-color="#00aaff"/><stop offset="0.155" stop-color="#009dff"/><stop offset="0.186" stop-color="#008aff"/><stop offset="0.216" stop-color="#006cff"/><stop offset="0.247" stop-color="#5257ff"/><stop offset="0.278" stop-color="#7e48ff"/><stop offset="0.309" stop-color="#9e33ff"/><stop offset="0.340" stop-color="#b900ff"/><stop offset="0.371" stop-color="#d300ff"/><stop offset="0.402" stop-color="#e900ff"/><stop offset="0.433" stop-color="#fd00ff"/><stop offset="0.464" stop-color="#ff00f0"/><stop offset="0.495" stop-color="#ff00e2"/><stop offset="0.526" stop-color="#ff00d7"/><stop offset="0.557" stop-color="#ff00cd"/><stop offset="0.588" stop-color="#ff00c4"/><stop offset="0.619" stop-color="#ff00bd"/><stop offset="0.649" stop-color="#ff00b6"/><stop offset="0.680" stop-color="#ff00b0"/><stop offset="0.711" stop-color="#ff00ab"/><stop offset="0.742" stop-color="#ff00a6"/><stop offset="0.773" stop-color="#ff00a2"/><stop offset="0.804" stop-color="#ff009d"/><stop offset="0.835" stop-color="#ff009a"/><stop offset="0.866" stop-color="#ff0096"/><stop offset="0.897" stop-color="#ff0093"/><stop offset="0.928" stop-color="#ff0090"/><stop offset="0.959" stop-color="#ff008d"/><stop offset="0.990" stop-color="#ff008a"/><stop offset="1.000" stop-color="#ff0088"/></linearGradient><linearGradient id="g61" gradientUnits="userSpaceOnUse" x1="338" y1="0" x2="532" y2="0"><stop offset="0.000" stop-color="#00c3ff"/><stop offset="0.031" stop-color="#00beff"/><stop offset="0.062" stop-color="#00b7ff"/><stop offset="0.093" stop-color="#00afff"/><stop offset="0.124" stop-color="#00a4ff"/><stop offset="0.155" stop-color="#0095ff"/><stop offset="0.186" stop-color="#0080ff"/><stop offset="0.216" stop-color="#005bff"/><stop offset="0.247" stop-color="#5947ff"/><stop offset="0.278" stop-color="#8232ff"/><stop offset="0.309" stop-color="#a001ff"/><stop offset="0.340" stop-color="#bd00ff"/><stop offset="0.371" stop-color="#d500ff"/><stop offset="0.402" stop-color="#ea00ff"/><stop offset="0.433" stop-color="#fc00ff"/><stop offset="0.464" stop-color="#ff00f1"/><stop offset="0.495" stop-color="#ff00e4"/><stop offset="0.526" stop-color="#ff00d9"/><stop offset="0.557" stop-color="#ff00cf"/><stop offset="0.588" stop-color="#ff00c7"/><stop offset="0.619" stop-color="#ff00bf"/><stop offset="0.649" stop-color="#ff00b9"/><stop offset="0.680" stop-color="#ff00b3"/><stop offset="0.711" stop-color="#ff00ae"/><stop offset="0.742" stop-color="#ff00a9"/><stop offset="0.773" stop-color="#ff00a4"/><stop offset="0.804" stop-color="#ff00a0"/><stop offset="0.835" stop-color="#ff009c"/><stop offset="0.866" stop-color="#ff0099"/><stop offset="0.897" stop-color="#ff0095"/><stop offset="0.928" stop-color="#ff0092"/><stop offset="0.959" stop-color="#ff0090"/><stop offset="0.990" stop-color="#ff008d"/><stop offset="1.000" stop-color="#ff008a"/></linearGradient><linearGradient id="g62" gradientUnits="userSpaceOnUse" x1="338" y1="0" x2="532" y2="0"><stop offset="0.000" stop-color="#00c0ff"/><stop offset="0.031" stop-color="#00baff"/><stop offset="0.062" stop-color="#00b2ff"/><stop offset="0.093" stop-color="#00a9ff"/><stop offset="0.124" stop-color="#009dff"/><stop offset="0.155" stop-color="#008dff"/><stop offset="0.186" stop-color="#0074ff"/><stop offset="0.216" stop-color="#0746ff"/><stop offset="0.247" stop-color="#5f32ff"/><stop offset="0.278" stop-color="#8505ff"/><stop offset="0.309" stop-color="#a600ff"/><stop offset="0.340" stop-color="#c100ff"/><stop offset="0.371" stop-color="#d700ff"/><stop offset="0.402" stop-color="#ea00ff"/><stop offset="0.433" stop-color="#fc00ff"/><stop offset="0.464" stop-color="#ff00f2"/><stop offset="0.495" stop-color="#ff00e5"/><stop offset="0.526" stop-color="#ff00db"/><stop offset="0.557" stop-color="#ff00d1"/><stop offset="0.588" stop-color="#ff00c9"/><stop offset="0.619" stop-color="#ff00c2"/><stop offset="0.649" stop-color="#ff00bb"/><stop offset="0.680" stop-color="#ff00b5"/><stop offset="0.711" stop-color="#ff00b0"/><stop offset="0.742" stop-color="#ff00ab"/><stop offset="0.773" stop-color="#ff00a7"/><stop offset="0.804" stop-color="#ff00a3"/><stop offset="0.835" stop-color="#ff009f"/><stop offset="0.866" stop-color="#ff009b"/><stop offset="0.897" stop-color="#ff0098"/><stop offset="0.928" stop-color="#ff0095"/><stop offset="0.959" stop-color="#ff0092"/><stop offset="0.990" stop-color="#ff008f"/><stop offset="1.000" stop-color="#ff008d"/></linearGradient><linearGradient id="g63" gradientUnits="userSpaceOnUse" x1="338" y1="0" x2="532" y2="0"><stop offset="0.000" stop-color="#00bcff"/><stop offset="0.031" stop-color="#00b5ff"/><stop offset="0.062" stop-color="#00adff"/><stop offset="0.093" stop-color="#00a3ff"/><stop offset="0.124" stop-color="#0096ff"/><stop offset="0.155" stop-color="#0083ff"/><stop offset="0.186" stop-color="#0067ff"/><stop offset="0.216" stop-color="#2432ff"/><stop offset="0.247" stop-color="#6508ff"/><stop offset="0.278" stop-color="#8d00ff"/><stop offset="0.309" stop-color="#ab00ff"/><stop offset="0.340" stop-color="#c400ff"/><stop offset="0.371" stop-color="#d900ff"/><stop offset="0.402" stop-color="#eb00ff"/><stop offset="0.433" stop-color="#fc00ff"/><stop offset="0.464" stop-color="#ff00f3"/><stop offset="0.495" stop-color="#ff00e7"/><stop offset="0.526" stop-color="#ff00dc"/><stop offset="0.557" stop-color="#ff00d3"/><stop offset="0.588" stop-color="#ff00cb"/><stop offset="0.619" stop-color="#ff00c4"/><stop offset="0.649" stop-color="#ff00bd"/><stop offset="0.680" stop-color="#ff00b8"/><stop offset="0.711" stop-color="#ff00b2"/><stop offset="0.742" stop-color="#ff00ae"/><stop offset="0.773" stop-color="#ff00a9"/><stop offset="0.804" stop-color="#ff00a5"/><stop offset="0.835" stop-color="#ff00a1"/><stop offset="0.866" stop-color="#ff009e"/><stop offset="0.897" stop-color="#ff009a"/><stop offset="0.928" stop-color="#ff0097"/><stop offset="0.959" stop-color="#ff0094"/><stop offset="0.990" stop-color="#ff0092"/><stop offset="1.000" stop-color="#ff008f"/></linearGradient><linearGradient id="g64" gradientUnits="userSpaceOnUse" x1="338" y1="0" x2="532" y2="0"><stop offset="0.000" stop-color="#00b8ff"/><stop offset="0.031" stop-color="#00b1ff"/><stop offset="0.062" stop-color="#00a8ff"/><stop offset="0.093" stop-color="#009dff"/><stop offset="0.124" stop-color="#008eff"/><stop offset="0.155" stop-color="#007aff"/><stop offset="0.186" stop-color="#0057ff"/><stop offset="0.216" stop-color="#330bff"/><stop offset="0.247" stop-color="#7100ff"/><stop offset="0.278" stop-color="#9500ff"/><stop offset="0.309" stop-color="#b000ff"/><stop offset="0.340" stop-color="#c600ff"/><stop offset="0.371" stop-color="#da00ff"/><stop offset="0.402" stop-color="#ec00ff"/><stop offset="0.433" stop-color="#fc00ff"/><stop offset="0.464" stop-color="#ff00f4"/><stop offset="0.495" stop-color="#ff00e8"/><stop offset="0.526" stop-color="#ff00de"/><stop offset="0.557" stop-color="#ff00d5"/><stop offset="0.588" stop-color="#ff00cd"/><stop offset="0.619" stop-color="#ff00c6"/><stop offset="0.649" stop-color="#ff00c0"/><stop offset="0.680" stop-color="#ff00ba"/><stop offset="0.711" stop-color="#ff00b5"/><stop offset="0.742" stop-color="#ff00b0"/><stop offset="0.773" stop-color="#ff00ab"/><stop offset="0.804" stop-color="#ff00a7"/><stop offset="0.835" stop-color="#ff00a4"/><stop offset="0.866" stop-color="#ff00a0"/><stop offset="0.897" stop-color="#ff009d"/><stop offset="0.928" stop-color="#ff009a"/><stop offset="0.959" stop-color="#ff0097"/><stop offset="0.990" stop-color="#ff0094"/><stop offset="1.000" stop-color="#ff0091"/></linearGradient><linearGradient id="g65" gradientUnits="userSpaceOnUse" x1="338" y1="0" x2="532" y2="0"><stop offset="0.000" stop-color="#00b4ff"/><stop offset="0.031" stop-color="#00acff"/><stop offset="0.062" stop-color="#00a3ff"/><stop offset="0.093" stop-color="#0097ff"/><stop offset="0.124" stop-color="#0086ff"/><stop offset="0.155" stop-color="#006fff"/><stop offset="0.186" stop-color="#0043ff"/><stop offset="0.216" stop-color="#4b00ff"/><stop offset="0.247" stop-color="#7b00ff"/><stop offset="0.278" stop-color="#9b00ff"/><stop offset="0.309" stop-color="#b400ff"/><stop offset="0.340" stop-color="#c900ff"/><stop offset="0.371" stop-color="#db00ff"/><stop offset="0.402" stop-color="#ec00ff"/><stop offset="0.433" stop-color="#fb00ff"/><stop offset="0.464" stop-color="#ff00f5"/><stop offset="0.495" stop-color="#ff00e9"/><stop offset="0.526" stop-color="#ff00df"/><stop offset="0.557" stop-color="#ff00d6"/><stop offset="0.588" stop-color="#ff00cf"/><stop offset="0.619" stop-color="#ff00c8"/><stop offset="0.649" stop-color="#ff00c2"/><stop offset="0.680" stop-color="#ff00bc"/><stop offset="0.711" stop-color="#ff00b7"/><stop offset="0.742" stop-color="#ff00b2"/><stop offset="0.773" stop-color="#ff00ae"/><stop offset="0.804" stop-color="#ff00aa"/><stop offset="0.835" stop-color="#ff00a6"/><stop offset="0.866" stop-color="#ff00a2"/><stop offset="0.897" stop-color="#ff009f"/><stop offset="0.928" stop-color="#ff009c"/><stop offset="0.959" stop-color="#ff0099"/><stop offset="0.990" stop-color="#ff0096"/><stop offset="1.000" stop-color="#ff0094"/></linearGradient><linearGradient id="g66" gradientUnits="userSpaceOnUse" x1="338" y1="0" x2="532" y2="0"><stop offset="0.000" stop-color="#00afff"/><stop offset="0.031" stop-color="#00a7ff"/><stop offset="0.062" stop-color="#009dff"/><stop offset="0.093" stop-color="#0090ff"/><stop offset="0.124" stop-color="#007eff"/><stop offset="0.155" stop-color="#0062ff"/><stop offset="0.186" stop-color="#0023ff"/><stop offset="0.216" stop-color="#5c00ff"/><stop offset="0.247" stop-color="#8400ff"/><stop offset="0.278" stop-color="#a000ff"/><stop offset="0.309" stop-color="#b700ff"/><stop offset="0.340" stop-color="#cb00ff"/><stop offset="0.371" stop-color="#dd00ff"/><stop offset="0.402" stop-color="#ed00ff"/><stop offset="0.433" stop-color="#fb00ff"/><stop offset="0.464" stop-color="#ff00f6"/><stop offset="0.495" stop-color="#ff00ea"/><stop offset="0.526" stop-color="#ff00e1"/><stop offset="0.557" stop-color="#ff00d8"/><stop offset="0.588" stop-color="#ff00d0"/><stop offset="0.619" stop-color="#ff00ca"/><stop offset="0.649" stop-color="#ff00c3"/><stop offset="0.680" stop-color="#ff00be"/><stop offset="0.711" stop-color="#ff00b9"/><stop offset="0.742" stop-color="#ff00b4"/><stop offset="0.773" stop-color="#ff00b0"/><stop offset="0.804" stop-color="#ff00ac"/><stop offset="0.835" stop-color="#ff00a8"/><stop offset="0.866" stop-color="#ff00a4"/><stop offset="0.897" stop-color="#ff00a1"/><stop offset="0.928" stop-color="#ff009e"/><stop offset="0.959" stop-color="#ff009b"/><stop offset="0.990" stop-color="#ff0098"/><stop offset="1.000" stop-color="#ff0096"/></linearGradient><linearGradient id="g67" gradientUnits="userSpaceOnUse" x1="338" y1="0" x2="532" y2="0"><stop offset="0.000" stop-color="#00abff"/><stop offset="0.031" stop-color="#00a2ff"/><stop offset="0.062" stop-color="#0097ff"/><stop offset="0.093" stop-color="#0089ff"/><stop offset="0.124" stop-color="#0075ff"/><stop offset="0.155" stop-color="#0054ff"/><stop offset="0.186" stop-color="#2900ff"/><stop offset="0.216" stop-color="#6800ff"/><stop offset="0.247" stop-color="#8b00ff"/><stop offset="0.278" stop-color="#a500ff"/><stop offset="0.309" stop-color="#ba00ff"/><stop offset="0.340" stop-color="#cd00ff"/><stop offset="0.371" stop-color="#de00ff"/><stop offset="0.402" stop-color="#ed00ff"/><stop offset="0.433" stop-color="#fb00ff"/><stop offset="0.464" stop-color="#ff00f6"/><stop offset="0.495" stop-color="#ff00eb"/><stop offset="0.526" stop-color="#ff00e2"/><stop offset="0.557" stop-color="#ff00d9"/><stop offset="0.588" stop-color="#ff00d2"/><stop offset="0.619" stop-color="#ff00cb"/><stop offset="0.649" stop-color="#ff00c5"/><stop offset="0.680" stop-color="#ff00c0"/><stop offset="0.711" stop-color="#ff00bb"/><stop offset="0.742" stop-color="#ff00b6"/><stop offset="0.773" stop-color="#ff00b2"/><stop offset="0.804" stop-color="#ff00ae"/><stop offset="0.835" stop-color="#ff00aa"/><stop offset="0.866" stop-color="#ff00a6"/><stop offset="0.897" stop-color="#ff00a3"/><stop offset="0.928" stop-color="#ff00a0"/><stop offset="0.959" stop-color="#ff009d"/><stop offset="0.990" stop-color="#ff009a"/><stop offset="1.000" stop-color="#ff0098"/></linearGradient><linearGradient id="g68" gradientUnits="userSpaceOnUse" x1="338" y1="0" x2="532" y2="0"><stop offset="0.000" stop-color="#00a7ff"/><stop offset="0.031" stop-color="#009dff"/><stop offset="0.062" stop-color="#0091ff"/><stop offset="0.093" stop-color="#0081ff"/><stop offset="0.124" stop-color="#006aff"/><stop offset="0.155" stop-color="#0041ff"/><stop offset="0.186" stop-color="#4400ff"/><stop offset="0.216" stop-color="#7300ff"/><stop offset="0.247" stop-color="#9100ff"/><stop offset="0.278" stop-color="#a900ff"/><stop offset="0.309" stop-color="#bd00ff"/><stop offset="0.340" stop-color="#cf00ff"/><stop offset="0.371" stop-color="#df00ff"/><stop offset="0.402" stop-color="#ed00ff"/><stop offset="0.433" stop-color="#fb00ff"/><stop offset="0.464" stop-color="#ff00f7"/><stop offset="0.495" stop-color="#ff00ec"/><stop offset="0.526" stop-color="#ff00e3"/><stop offset="0.557" stop-color="#ff00db"/><stop offset="0.588" stop-color="#ff00d3"/><stop offset="0.619" stop-color="#ff00cd"/><stop offset="0.649" stop-color="#ff00c7"/><stop offset="0.680" stop-color="#ff00c1"/><stop offset="0.711" stop-color="#ff00bc"/><stop offset="0.742" stop-color="#ff00b8"/><stop offset="0.773" stop-color="#ff00b3"/><stop offset="0.804" stop-color="#ff00b0"/><stop offset="0.835" stop-color="#ff00ac"/><stop offset="0.866" stop-color="#ff00a8"/><stop offset="0.897" stop-color="#ff00a5"/><stop offset="0.928" stop-color="#ff00a2"/><stop offset="0.959" stop-color="#ff009f"/><stop offset="0.990" stop-color="#ff009c"/><stop offset="1.000" stop-color="#ff009a"/></linearGradient><linearGradient id="g69" gradientUnits="userSpaceOnUse" x1="338" y1="0" x2="532" y2="0"><stop offset="0.000" stop-color="#00a2ff"/><stop offset="0.031" stop-color="#0098ff"/><stop offset="0.062" stop-color="#008bff"/><stop offset="0.093" stop-color="#0079ff"/><stop offset="0.124" stop-color="#005fff"/><stop offset="0.155" stop-color="#0025ff"/><stop offset="0.186" stop-color="#5500ff"/><stop offset="0.216" stop-color="#7b00ff"/><stop offset="0.247" stop-color="#9700ff"/><stop offset="0.278" stop-color="#ad00ff"/><stop offset="0.309" stop-color="#c000ff"/><stop offset="0.340" stop-color="#d100ff"/><stop offset="0.371" stop-color="#e000ff"/><stop offset="0.402" stop-color="#ee00ff"/><stop offset="0.433" stop-color="#fb00ff"/><stop offset="0.464" stop-color="#ff00f7"/><stop offset="0.495" stop-color="#ff00ed"/><stop offset="0.526" stop-color="#ff00e4"/><stop offset="0.557" stop-color="#ff00dc"/><stop offset="0.588" stop-color="#ff00d5"/><stop offset="0.619" stop-color="#ff00ce"/><stop offset="0.649" stop-color="#ff00c8"/><stop offset="0.680" stop-color="#ff00c3"/><stop offset="0.711" stop-color="#ff00be"/><stop offset="0.742" stop-color="#ff00ba"/><stop offset="0.773" stop-color="#ff00b5"/><stop offset="0.804" stop-color="#ff00b1"/><stop offset="0.835" stop-color="#ff00ae"/><stop offset="0.866" stop-color="#ff00aa"/><stop offset="0.897" stop-color="#ff00a7"/><stop offset="0.928" stop-color="#ff00a4"/><stop offset="0.959" stop-color="#ff00a1"/><stop offset="0.990" stop-color="#ff009e"/><stop offset="1.000" stop-color="#ff009c"/></linearGradient></defs>
<g clip-path="url(#horse)"><rect x="338" y="288" width="194" height="2.3" fill="url(#g0)"/><rect x="338" y="290" width="194" height="2.3" fill="url(#g1)"/><rect x="338" y="292" width="194" height="2.3" fill="url(#g2)"/><rect x="338" y="294" width="194" height="2.3" fill="url(#g3)"/><rect x="338" y="296" width="194" height="2.3" fill="url(#g4)"/><rect x="338" y="298" width="194" height="2.3" fill="url(#g5)"/><rect x="338" y="300" width="194" height="2.3" fill="url(#g6)"/><rect x="338" y="302" width="194" height="2.3" fill="url(#g7)"/><rect x="338" y="304" width="194" height="2.3" fill="url(#g8)"/><rect x="338" y="306" width="194" height="2.3" fill="url(#g9)"/><rect x="338" y="308" width="194" height="2.3" fill="url(#g10)"/><rect x="338" y="310" width="194" height="2.3" fill="url(#g11)"/><rect x="338" y="312" width="194" height="2.3" fill="url(#g12)"/><rect x="338" y="314" width="194" height="2.3" fill="url(#g13)"/><rect x="338" y="316" width="194" height="2.3" fill="url(#g14)"/><rect x="338" y="318" width="194" height="2.3" fill="url(#g15)"/><rect x="338" y="320" width="194" height="2.3" fill="url(#g16)"/><rect x="338" y="322" width="194" height="2.3" fill="url(#g17)"/><rect x="338" y="324" width="194" height="2.3" fill="url(#g18)"/><rect x="338" y="326" width="194" height="2.3" fill="url(#g19)"/><rect x="338" y="328" width="194" height="2.3" fill="url(#g20)"/><rect x="338" y="330" width="194" height="2.3" fill="url(#g21)"/><rect x="338" y="332" width="194" height="2.3" fill="url(#g22)"/><rect x="338" y="334" width="194" height="2.3" fill="url(#g23)"/><rect x="338" y="336" width="194" height="2.3" fill="url(#g24)"/><rect x="338" y="338" width="194" height="2.3" fill="url(#g25)"/><rect x="338" y="340" width="194" height="2.3" fill="url(#g26)"/><rect x="338" y="342" width="194" height="2.3" fill="url(#g27)"/><rect x="338" y="344" width="194" height="2.3" fill="url(#g28)"/><rect x="338" y="346" width="194" height="2.3" fill="url(#g29)"/><rect x="338" y="348" width="194" height="2.3" fill="url(#g30)"/><rect x="338" y="350" width="194" height="2.3" fill="url(#g31)"/><rect x="338" y="352" width="194" height="2.3" fill="url(#g32)"/><rect x="338" y="354" width="194" height="2.3" fill="url(#g33)"/><rect x="338" y="356" width="194" height="2.3" fill="url(#g34)"/><rect x="338" y="358" width="194" height="2.3" fill="url(#g35)"/><rect x="338" y="360" width="194" height="2.3" fill="url(#g36)"/><rect x="338" y="362" width="194" height="2.3" fill="url(#g37)"/><rect x="338" y="364" width="194" height="2.3" fill="url(#g38)"/><rect x="338" y="366" width="194" height="2.3" fill="url(#g39)"/><rect x="338" y="368" width="194" height="2.3" fill="url(#g40)"/><rect x="338" y="370" width="194" height="2.3" fill="url(#g41)"/><rect x="338" y="372" width="194" height="2.3" fill="url(#g42)"/><rect x="338" y="374" width="194" height="2.3" fill="url(#g43)"/><rect x="338" y="376" width="194" height="2.3" fill="url(#g44)"/><rect x="338" y="378" width="194" height="2.3" fill="url(#g45)"/><rect x="338" y="380" width="194" height="2.3" fill="url(#g46)"/><rect x="338" y="382" width="194" height="2.3" fill="url(#g47)"/><rect x="338" y="384" width="194" height="2.3" fill="url(#g48)"/><rect x="338" y="386" width="194" height="2.3" fill="url(#g49)"/><rect x="338" y="388" width="194" height="2.3" fill="url(#g50)"/><rect x="338" y="390" width="194" height="2.3" fill="url(#g51)"/><rect x="338" y="392" width="194" height="2.3" fill="url(#g52)"/><rect x="338" y="394" width="194" height="2.3" fill="url(#g53)"/><rect x="338" y="396" width="194" height="2.3" fill="url(#g54)"/><rect x="338" y="398" width="194" height="2.3" fill="url(#g55)"/><rect x="338" y="400" width="194" height="2.3" fill="url(#g56)"/><rect x="338" y="402" width="194" height="2.3" fill="url(#g57)"/><rect x="338" y="404" width="194" height="2.3" fill="url(#g58)"/><rect x="338" y="406" width="194" height="2.3" fill="url(#g59)"/><rect x="338" y="408" width="194" height="2.3" fill="url(#g60)"/><rect x="338" y="410" width="194" height="2.3" fill="url(#g61)"/><rect x="338" y="412" width="194" height="2.3" fill="url(#g62)"/><rect x="338" y="414" width="194" height="2.3" fill="url(#g63)"/><rect x="338" y="416" width="194" height="2.3" fill="url(#g64)"/><rect x="338" y="418" width="194" height="2.3" fill="url(#g65)"/><rect x="338" y="420" width="194" height="2.3" fill="url(#g66)"/><rect x="338" y="422" width="194" height="2.3" fill="url(#g67)"/><rect x="338" y="424" width="194" height="2.3" fill="url(#g68)"/><rect x="338" y="426" width="194" height="2.3" fill="url(#g69)"/></g>
<path d="M383.24,427.06 L383.19,427.05 L383.13,427.03 L383.07,427.00 L383.01,426.98 L382.95,426.95 L382.88,426.92 L382.82,426.89 L382.74,426.85 L382.67,426.81 L382.58,426.77 L382.49,426.72 L382.39,426.67 L382.29,426.61 L382.18,426.55 L382.06,426.49 L381.94,426.42 L381.82,426.35 L381.69,426.27 L381.55,426.19 L381.41,426.11 L381.26,426.03 L381.10,425.94 L380.93,425.84 L380.74,425.74 L380.55,425.64 L380.34,425.52 L380.11,425.40 L379.88,425.27 L379.63,425.14 L379.37,425.00 L379.11,424.85 L378.83,424.70 L378.54,424.54 L378.23,424.36 L377.91,424.18 L377.57,423.98 L377.22,423.76 L376.86,423.53 L376.48,423.29 L376.08,423.03 L375.68,422.76 L375.26,422.46 L374.82,422.13 L374.36,421.77 L373.87,421.36 L373.34,420.89 L372.77,420.36 L372.18,419.78 L371.55,419.13 L370.89,418.42 L370.20,417.64 L369.48,416.78 L368.72,415.84 L367.93,414.81 L367.11,413.66 L366.24,412.41 L365.34,411.04 L364.39,409.54 L363.38,407.91 L362.33,406.14 L361.22,404.22 L360.06,402.16 L358.87,399.94 L357.65,397.55 L356.43,394.99 L355.21,392.25 L353.99,389.33 L352.77,386.23 L351.56,382.96 L350.35,379.52 L349.14,375.91 L347.96,372.15 L346.80,368.26 L345.69,364.28 L344.63,360.22 L343.65,356.10 L342.76,351.96 L341.95,347.81 L341.24,343.68 L340.64,339.60 L340.15,335.59 L339.79,331.67 L339.56,327.84 L339.47,324.11 L339.52,320.51 L339.72,317.04 L340.08,313.73 L340.60,310.58 L341.28,307.62 L342.13,304.87 L343.14,302.34 L344.31,300.05 L345.63,298.01 L347.08,296.23 L348.65,294.73 L350.34,293.51 L352.11,292.56 L353.98,291.87 L355.91,291.40 L357.89,291.16 L359.92,291.11 L361.98,291.24 L364.07,291.51 L366.18,291.91 L368.31,292.40 L370.44,292.97 L372.57,293.60 L374.69,294.28 L376.80,294.99 L378.88,295.73 L380.92,296.49 L382.94,297.27 L384.93,298.07 L386.90,298.88 L388.85,299.72 L390.78,300.57 L392.71,301.45 L394.62,302.35 L396.52,303.26 L398.43,304.19 L400.32,305.15 L402.22,306.12 L404.11,307.10 L405.99,308.10 L407.87,309.11 L409.75,310.14 L411.62,311.18 L413.49,312.23 L415.35,313.29 L417.22,314.36 L419.08,315.44 L420.94,316.53 L422.81,317.63 L424.67,318.73 L426.54,319.84 L428.40,320.96 L430.27,322.08 L432.14,323.21 L434.01,324.34 L435.88,325.48 L437.74,326.62 L439.60,327.77 L441.46,328.91 L443.32,330.06 L445.17,331.21 L447.03,332.35 L448.88,333.50 L450.73,334.64 L452.57,335.79 L454.41,336.93 L456.24,338.07 L458.06,339.20 L459.87,340.34 L461.67,341.46 L463.47,342.59 L465.25,343.70 L467.02,344.81 L468.78,345.92 L470.53,347.01 L472.26,348.10 L473.98,349.18 L475.69,350.24 L477.37,351.30 L479.04,352.35 L480.69,353.38 L482.32,354.40 L483.93,355.40 L485.52,356.39 L487.09,357.37 L488.63,358.33 L490.14,359.28 L491.62,360.21 L493.07,361.12 L494.48,362.01 L495.86,362.87 L497.19,363.71 L498.48,364.52 L499.73,365.30 L500.95,366.06 L502.15,366.81 L503.32,367.54 L504.46,368.26 L505.57,368.95 L506.64,369.62 L507.68,370.27 L508.68,370.89 L509.63,371.48 L510.55,372.05 L511.43,372.60 L512.27,373.12 L513.09,373.63 L513.86,374.12 L514.61,374.59 L515.32,375.04 L516.01,375.47 L516.66,375.88 L517.28,376.27 L517.87,376.64 L518.44,377.00 L518.98,377.34 L519.50,377.66 L520.00,377.97 L520.47,378.26 L520.92,378.55 L521.36,378.81 L521.77,379.07 L522.17,379.32 L522.54,379.56 L522.91,379.79 L523.26,380.01 L523.60,380.23 L523.93,380.43 L524.25,380.63 L524.56,380.83 L524.85,381.01 L525.14,381.19 L525.41,381.36 L525.67,381.53 L525.92,381.68 L526.16,381.83 L526.39,381.97 L526.61,382.11 L526.82,382.24 L527.02,382.36 L527.20,382.47 L527.38,382.58 L527.54,382.68 L527.70,382.78 L527.85,382.88 L527.99,382.96 L528.12,383.05 L528.24,383.13 L528.36,383.20 L528.48,383.27 L528.59,383.34 L528.69,383.41 L528.78,383.47 L528.87,383.52 L528.96,383.57 L529.03,383.62 L529.10,383.66 L529.16,383.70 L529.21,383.74 L529.27,383.77 L529.32,383.80 L529.37,383.83 L529.42,383.86 L529.46,383.89 L529.51,383.92 L529.55,383.95 L529.59,383.97 L529.63,384.00 L529.66,384.02 L529.70,384.04 L529.73,384.06 L529.77,384.09 L529.81,384.11 L529.84,384.13 L529.88,384.16 L529.92,384.18 L529.95,384.20 L529.99,384.22 L530.02,384.24 L530.05,384.26 L530.07,384.28 L530.10,384.29 L530.12,384.31 L530.14,384.32 L530.16,384.33 L530.18,384.34 L530.19,384.35 L530.20,384.36 L530.21,384.36 L530.22,384.37 L530.23,384.37 L530.24,384.38 L530.24,384.38 L530.25,384.38 L530.25,384.39 L530.26,384.39 L383.94,427.08 Z" fill="none" stroke="#222" stroke-width="0.9"/>
<line x1="338.00" y1="276.80" x2="537.00" y2="276.80" stroke="#777" stroke-width="1.2" />
<line x1="536.50" y1="276.80" x2="536.50" y2="434.20" stroke="#444" stroke-width="1.1" />
<line x1="338.00" y1="434.20" x2="537.00" y2="434.20" stroke="#222" stroke-width="1.2" />
<line x1="338.50" y1="276.80" x2="338.50" y2="434.20" stroke="#333" stroke-width="1.1" />
<line x1="364.60" y1="434.20" x2="364.60" y2="431.70" stroke="#222" stroke-width="1.1" />
<line x1="364.60" y1="276.80" x2="364.60" y2="279.30" stroke="#333" stroke-width="1.1" />
<line x1="390.70" y1="434.20" x2="390.70" y2="431.70" stroke="#222" stroke-width="1.1" />
<line x1="390.70" y1="276.80" x2="390.70" y2="279.30" stroke="#333" stroke-width="1.1" />
<line x1="416.80" y1="434.20" x2="416.80" y2="431.70" stroke="#222" stroke-width="1.1" />
<line x1="416.80" y1="276.80" x2="416.80" y2="279.30" stroke="#333" stroke-width="1.1" />
<line x1="442.90" y1="434.20" x2="442.90" y2="431.70" stroke="#222" stroke-width="1.1" />
<line x1="442.90" y1="276.80" x2="442.90" y2="279.30" stroke="#333" stroke-width="1.1" />
<line x1="469.00" y1="434.20" x2="469.00" y2="431.70" stroke="#222" stroke-width="1.1" />
<line x1="469.00" y1="276.80" x2="469.00" y2="279.30" stroke="#333" stroke-width="1.1" />
<line x1="495.10" y1="434.20" x2="495.10" y2="431.70" stroke="#222" stroke-width="1.1" />
<line x1="495.10" y1="276.80" x2="495.10" y2="279.30" stroke="#333" stroke-width="1.1" />
<line x1="521.20" y1="434.20" x2="521.20" y2="431.70" stroke="#222" stroke-width="1.1" />
<line x1="521.20" y1="276.80" x2="521.20" y2="279.30" stroke="#333" stroke-width="1.1" />
<line x1="338.50" y1="427.90" x2="341.00" y2="427.90" stroke="#333" stroke-width="1.1" />
<line x1="536.50" y1="427.90" x2="534.00" y2="427.90" stroke="#333" stroke-width="1.1" />
<line x1="338.50" y1="395.10" x2="341.00" y2="395.10" stroke="#333" stroke-width="1.1" />
<line x1="536.50" y1="395.10" x2="534.00" y2="395.10" stroke="#333" stroke-width="1.1" />
<line x1="338.50" y1="362.30" x2="341.00" y2="362.30" stroke="#333" stroke-width="1.1" />
<line x1="536.50" y1="362.30" x2="534.00" y2="362.30" stroke="#333" stroke-width="1.1" />
<line x1="338.50" y1="329.50" x2="341.00" y2="329.50" stroke="#333" stroke-width="1.1" />
<line x1="536.50" y1="329.50" x2="534.00" y2="329.50" stroke="#333" stroke-width="1.1" />
<line x1="338.50" y1="296.70" x2="341.00" y2="296.70" stroke="#333" stroke-width="1.1" />
<line x1="536.50" y1="296.70" x2="534.00" y2="296.70" stroke="#333" stroke-width="1.1" />
<text x="342.50" y="288.40" font-size="12.8" font-weight="bold" textLength="21.4" lengthAdjust="spacingAndGlyphs">520</text>
<text x="395.30" y="300.20" font-size="12.8" font-weight="bold" textLength="21.4" lengthAdjust="spacingAndGlyphs">540</text>
<text x="435.30" y="321.10" font-size="12.8" font-weight="bold" textLength="21.4" lengthAdjust="spacingAndGlyphs">560</text>
<text x="471.60" y="344.80" font-size="12.8" font-weight="bold" textLength="21.4" lengthAdjust="spacingAndGlyphs">580</text>
<text x="499.80" y="363.00" font-size="12.8" font-weight="bold" textLength="21.4" lengthAdjust="spacingAndGlyphs">600</text>
<text x="514.40" y="373.90" font-size="12.8" font-weight="bold" textLength="21.4" lengthAdjust="spacingAndGlyphs">620</text>
<text x="315.40" y="345.00" font-size="12.8" font-weight="bold" textLength="22.0" lengthAdjust="spacingAndGlyphs">500</text>
<text x="338.20" y="415.70" font-size="12.8" font-weight="bold" textLength="22.0" lengthAdjust="spacingAndGlyphs">480</text>
<text x="350.70" y="431.50" font-size="12.8" font-weight="bold" textLength="21.4" lengthAdjust="spacingAndGlyphs">460</text>
<line x1="376.08" y1="423.03" x2="373.80" y2="426.31" stroke="#222" stroke-width="0.9" />
<line x1="362.33" y1="406.14" x2="358.86" y2="408.12" stroke="#222" stroke-width="0.9" />
<line x1="340.64" y1="339.60" x2="336.67" y2="340.11" stroke="#222" stroke-width="0.9" />
<line x1="357.89" y1="291.16" x2="357.42" y2="287.18" stroke="#222" stroke-width="0.9" />
<line x1="398.43" y1="304.19" x2="400.20" y2="300.61" stroke="#222" stroke-width="0.9" />
<line x1="435.88" y1="325.48" x2="437.96" y2="322.07" stroke="#222" stroke-width="0.9" />
<line x1="472.26" y1="348.10" x2="474.39" y2="344.71" stroke="#222" stroke-width="0.9" />
<line x1="502.15" y1="366.81" x2="504.27" y2="363.42" stroke="#222" stroke-width="0.9" />
<line x1="518.98" y1="377.34" x2="521.10" y2="373.95" stroke="#222" stroke-width="0.9" />
<text x="454.70" y="296.00" font-size="16.5" font-weight="bold" font-style="italic" textLength="74" lengthAdjust="spacingAndGlyphs">CIE 1931</text>
<text transform="translate(306.70,369.60) rotate(-90)" font-size="16.3" font-weight="bold" textLength="32.8" lengthAdjust="spacingAndGlyphs">CIE y</text>
<text x="421.10" y="466.90" font-size="15.8" font-weight="bold" textLength="32.7" lengthAdjust="spacingAndGlyphs">CIE x</text>
<text x="280.50" y="260.70" font-size="22" font-weight="bold" textLength="26.8" lengthAdjust="spacingAndGlyphs">(d)</text>
<text x="356.20" y="325.10" font-size="14.5" textLength="52" lengthAdjust="spacingAndGlyphs">2 μm NW</text>
<text x="448.60" y="390.70" font-size="14.5" textLength="38" lengthAdjust="spacingAndGlyphs">2.5 μm</text>
<text x="448.60" y="409.90" font-size="14.5" textLength="20.7" lengthAdjust="spacingAndGlyphs">NW</text>
<text x="375.30" y="420.00" font-size="14.5" textLength="61" lengthAdjust="spacingAndGlyphs">0.8 μm NW</text>
<polygon points="415.3,336.8 471.8,358.5 383.4,400.2" fill="none" stroke="#111" stroke-width="1.5"/>
<polygon points="425.5,342.3 493.0,367.9 388.0,390.8" fill="none" stroke="#111" stroke-width="1.5" stroke-dasharray="5,3.5"/>
<circle cx="415.3" cy="336.8" r="3.6" fill="#111"/>
<circle cx="471.8" cy="358.5" r="3.6" fill="#111"/>
<circle cx="383.4" cy="400.2" r="3.6" fill="#111"/>
<path d="M420.7,337.5 L430.3,347.1 M420.7,347.1 L430.3,337.5" stroke="#111" stroke-width="1.5"/>
<path d="M488.2,363.09999999999997 L497.8,372.7 M488.2,372.7 L497.8,363.09999999999997" stroke="#111" stroke-width="1.5"/>
<path d="M383.2,386.0 L392.8,395.6 M383.2,395.6 L392.8,386.0" stroke="#111" stroke-width="1.5"/>
<circle cx="404.9" cy="347.2" r="1.6" fill="none" stroke="#555" stroke-width="0.7"/>
<circle cx="456.0" cy="358.6" r="1.6" fill="none" stroke="#555" stroke-width="0.7"/>
<circle cx="395.4" cy="389.2" r="1.6" fill="none" stroke="#555" stroke-width="0.7"/>
</svg>
</body></html>
